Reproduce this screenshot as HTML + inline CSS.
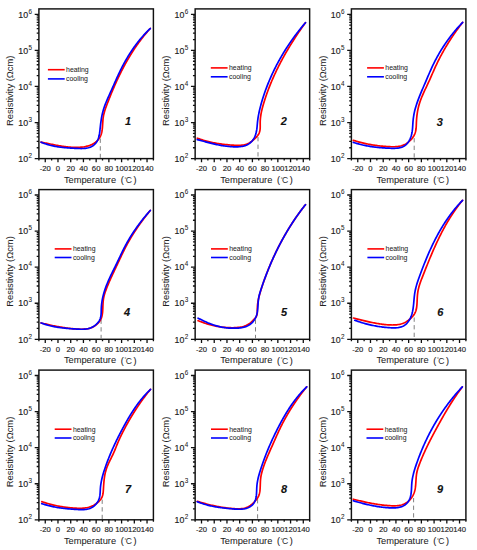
<!DOCTYPE html>
<html><head><meta charset="utf-8"><style>
html,body{margin:0;padding:0;background:#fff;width:477px;height:550px;overflow:hidden}
svg{display:block}
</style></head><body>
<svg width="477" height="550" viewBox="0 0 477 550" font-family='"Liberation Sans", sans-serif'><path d="M34.70 158.60H38.90M36.70 147.74H38.90M36.70 141.39H38.90M36.70 136.88H38.90M36.70 133.39H38.90M36.70 130.53H38.90M36.70 128.12H38.90M36.70 126.03H38.90M36.70 124.18H38.90M34.70 122.53H38.90M36.70 111.67H38.90M36.70 105.32H38.90M36.70 100.81H38.90M36.70 97.32H38.90M36.70 94.46H38.90M36.70 92.05H38.90M36.70 89.96H38.90M36.70 88.11H38.90M34.70 86.46H38.90M36.70 75.60H38.90M36.70 69.25H38.90M36.70 64.74H38.90M36.70 61.25H38.90M36.70 58.39H38.90M36.70 55.98H38.90M36.70 53.89H38.90M36.70 52.04H38.90M34.70 50.39H38.90M36.70 39.53H38.90M36.70 33.18H38.90M36.70 28.67H38.90M36.70 25.18H38.90M36.70 22.32H38.90M36.70 19.91H38.90M36.70 17.82H38.90M36.70 15.97H38.90M34.70 14.32H38.90M38.90 158.60V160.60M45.26 158.60V162.20M51.62 158.60V160.60M57.98 158.60V162.20M64.34 158.60V160.60M70.71 158.60V162.20M77.07 158.60V160.60M83.43 158.60V162.20M89.79 158.60V160.60M96.15 158.60V162.20M102.51 158.60V160.60M108.87 158.60V162.20M115.23 158.60V160.60M121.59 158.60V162.20M127.96 158.60V160.60M134.32 158.60V162.20M140.68 158.60V160.60M147.04 158.60V162.20M153.40 158.60V160.60" stroke="#111" stroke-width="1.3" fill="none"/>
<rect x="38.90" y="8.90" width="114.50" height="149.70" fill="none" stroke="#111" stroke-width="1.45"/>
<text x="28.10" y="161.80" text-anchor="end" font-size="8.8" fill="#1c1c1c" stroke="#1c1c1c" stroke-width="0.15">10</text>
<text x="28.50" y="157.80" font-size="6.3" fill="#222" stroke="#222" stroke-width="0.05">2</text>
<text x="28.10" y="125.73" text-anchor="end" font-size="8.8" fill="#1c1c1c" stroke="#1c1c1c" stroke-width="0.15">10</text>
<text x="28.50" y="121.73" font-size="6.3" fill="#222" stroke="#222" stroke-width="0.05">3</text>
<text x="28.10" y="89.66" text-anchor="end" font-size="8.8" fill="#1c1c1c" stroke="#1c1c1c" stroke-width="0.15">10</text>
<text x="28.50" y="85.66" font-size="6.3" fill="#222" stroke="#222" stroke-width="0.05">4</text>
<text x="28.10" y="53.59" text-anchor="end" font-size="8.8" fill="#1c1c1c" stroke="#1c1c1c" stroke-width="0.15">10</text>
<text x="28.50" y="49.59" font-size="6.3" fill="#222" stroke="#222" stroke-width="0.05">5</text>
<text x="28.10" y="17.52" text-anchor="end" font-size="8.8" fill="#1c1c1c" stroke="#1c1c1c" stroke-width="0.15">10</text>
<text x="28.50" y="13.52" font-size="6.3" fill="#222" stroke="#222" stroke-width="0.05">6</text>
<text x="45.26" y="171.10" text-anchor="middle" font-size="7.7" fill="#1c1c1c" stroke="#1c1c1c" stroke-width="0.15">-20</text>
<text x="57.98" y="171.10" text-anchor="middle" font-size="7.7" fill="#1c1c1c" stroke="#1c1c1c" stroke-width="0.15">0</text>
<text x="70.71" y="171.10" text-anchor="middle" font-size="7.7" fill="#1c1c1c" stroke="#1c1c1c" stroke-width="0.15">20</text>
<text x="83.43" y="171.10" text-anchor="middle" font-size="7.7" fill="#1c1c1c" stroke="#1c1c1c" stroke-width="0.15">40</text>
<text x="96.15" y="171.10" text-anchor="middle" font-size="7.7" fill="#1c1c1c" stroke="#1c1c1c" stroke-width="0.15">60</text>
<text x="108.87" y="171.10" text-anchor="middle" font-size="7.7" fill="#1c1c1c" stroke="#1c1c1c" stroke-width="0.15">80</text>
<text x="121.59" y="171.10" text-anchor="middle" font-size="7.7" fill="#1c1c1c" stroke="#1c1c1c" stroke-width="0.15">100</text>
<text x="134.32" y="171.10" text-anchor="middle" font-size="7.7" fill="#1c1c1c" stroke="#1c1c1c" stroke-width="0.15">120</text>
<text x="147.04" y="171.10" text-anchor="middle" font-size="7.7" fill="#1c1c1c" stroke="#1c1c1c" stroke-width="0.15">140</text>
<text x="63.90" y="182.70" font-size="9.3" fill="#222" stroke="#222" stroke-width="0.04">Temperature</text>
<text x="120.70" y="183.20" font-size="9" fill="#222" stroke="#222" stroke-width="0.1">(</text>
<text x="124.60" y="180.60" font-size="4.5" fill="#333">&#176;</text>
<text x="125.70" y="183.00" font-size="8.6" fill="#2a2a2a">C</text>
<text x="133.40" y="183.20" font-size="9" fill="#222" stroke="#222" stroke-width="0.1">)</text>
<text transform="translate(13.10 90.80) rotate(-90)" text-anchor="middle" font-size="9.4" fill="#222" stroke="#222" stroke-width="0.04">Resistivity (&#937;cm)</text>
<path d="M100.30 138.60V157.90" stroke="#808080" stroke-width="1" stroke-dasharray="4.3 3.3" fill="none"/>
<path d="M41.08 142.20 L42.11 142.39 L43.14 142.59 L44.16 142.79 L45.18 142.99 L46.20 143.19 L47.21 143.40 L48.22 143.61 L49.23 143.81 L50.24 144.02 L51.25 144.22 L52.25 144.43 L53.26 144.63 L54.26 144.83 L55.26 145.03 L56.27 145.22 L57.27 145.41 L58.27 145.59 L59.27 145.77 L60.28 145.94 L61.28 146.10 L62.29 146.26 L63.29 146.41 L64.30 146.55 L65.31 146.69 L66.33 146.81 L67.34 146.92 L68.36 147.03 L69.38 147.12 L70.41 147.20 L71.44 147.27 L72.47 147.32 L73.51 147.36 L74.55 147.39 L75.59 147.40 L76.64 147.40 L77.70 147.38 L78.75 147.34 L79.81 147.29 L80.86 147.21 L81.91 147.11 L82.95 146.98 L83.99 146.83 L85.02 146.65 L86.04 146.44 L87.04 146.20 L88.04 145.93 L89.01 145.62 L89.97 145.28 L90.91 144.91 L91.84 144.49 L92.73 144.03 L93.61 143.54 L94.46 143.00 L95.28 142.41 L96.07 141.78 L96.83 141.10 L97.56 140.38 L98.24 139.61 L98.88 138.80 L99.47 137.95 L100.00 137.07 L100.47 136.15 L100.87 135.21 L101.22 134.25 L101.50 133.26 L101.75 132.26 L101.95 131.24 L102.11 130.21 L102.25 129.17 L102.36 128.12 L102.45 127.07 L102.53 126.03 L102.60 124.98 L102.66 123.93 L102.73 122.89 L102.79 121.85 L102.87 120.81 L102.96 119.78 L103.06 118.75 L103.19 117.73 L103.34 116.71 L103.51 115.70 L103.72 114.70 L103.95 113.71 L104.20 112.72 L104.47 111.74 L104.77 110.76 L105.08 109.79 L105.40 108.82 L105.73 107.85 L106.08 106.89 L106.43 105.93 L106.79 104.97 L107.15 104.01 L107.52 103.05 L107.89 102.09 L108.26 101.13 L108.63 100.18 L109.01 99.22 L109.38 98.26 L109.76 97.31 L110.15 96.35 L110.53 95.40 L110.92 94.44 L111.31 93.49 L111.70 92.54 L112.10 91.59 L112.49 90.64 L112.90 89.69 L113.30 88.74 L113.71 87.79 L114.12 86.85 L114.53 85.90 L114.94 84.96 L115.36 84.02 L115.78 83.08 L116.21 82.14 L116.64 81.20 L117.07 80.26 L117.50 79.33 L117.94 78.39 L118.38 77.46 L118.82 76.53 L119.27 75.60 L119.72 74.68 L120.18 73.75 L120.64 72.83 L121.10 71.91 L121.56 70.99 L122.03 70.07 L122.50 69.15 L122.98 68.24 L123.46 67.33 L123.94 66.42 L124.43 65.51 L124.92 64.61 L125.42 63.71 L125.92 62.81 L126.42 61.91 L126.93 61.01 L127.44 60.12 L127.95 59.23 L128.47 58.34 L129.00 57.46 L129.52 56.57 L130.06 55.69 L130.59 54.82 L131.13 53.94 L131.68 53.07 L132.23 52.20 L132.78 51.34 L133.34 50.47 L133.90 49.61 L134.47 48.76 L135.04 47.90 L135.62 47.05 L136.20 46.21 L136.79 45.36 L137.38 44.52 L137.98 43.68 L138.58 42.85 L139.18 42.02 L139.79 41.19 L140.41 40.37 L141.03 39.55 L141.65 38.73 L142.28 37.92 L142.92 37.11 L143.56 36.31 L144.21 35.50 L144.86 34.71 L145.51 33.91 L146.18 33.12 L146.84 32.34 L147.52 31.56 L148.19 30.78 L148.88 30.00 L149.57 29.23 L150.26 28.47" stroke="#ff0000" stroke-width="1.7" fill="none" stroke-linecap="round" stroke-linejoin="round"/>
<path d="M41.07 142.18 L42.08 142.59 L43.08 142.99 L44.09 143.36 L45.09 143.71 L46.10 144.05 L47.10 144.37 L48.10 144.67 L49.10 144.95 L50.09 145.22 L51.09 145.47 L52.09 145.70 L53.09 145.92 L54.09 146.13 L55.09 146.33 L56.09 146.51 L57.09 146.68 L58.10 146.84 L59.10 146.98 L60.11 147.12 L61.12 147.25 L62.14 147.36 L63.15 147.47 L64.17 147.58 L65.20 147.67 L66.23 147.76 L67.26 147.84 L68.29 147.92 L69.33 147.99 L70.38 148.06 L71.43 148.12 L72.48 148.18 L73.55 148.24 L74.61 148.30 L75.69 148.35 L76.77 148.41 L77.85 148.46 L78.94 148.50 L80.02 148.52 L81.10 148.53 L82.18 148.52 L83.25 148.48 L84.30 148.41 L85.35 148.30 L86.38 148.15 L87.39 147.97 L88.38 147.73 L89.35 147.44 L90.30 147.10 L91.22 146.69 L92.10 146.22 L92.96 145.69 L93.78 145.09 L94.55 144.43 L95.27 143.71 L95.93 142.95 L96.53 142.14 L97.07 141.29 L97.54 140.41 L97.95 139.49 L98.32 138.54 L98.63 137.57 L98.91 136.57 L99.15 135.55 L99.35 134.51 L99.53 133.46 L99.68 132.40 L99.82 131.33 L99.94 130.26 L100.06 129.18 L100.17 128.11 L100.28 127.04 L100.40 125.98 L100.52 124.93 L100.64 123.88 L100.77 122.84 L100.91 121.80 L101.06 120.77 L101.21 119.75 L101.38 118.73 L101.55 117.71 L101.74 116.70 L101.93 115.70 L102.14 114.70 L102.37 113.70 L102.60 112.71 L102.86 111.72 L103.13 110.73 L103.41 109.75 L103.72 108.76 L104.03 107.79 L104.37 106.81 L104.71 105.84 L105.07 104.87 L105.44 103.90 L105.82 102.94 L106.21 101.97 L106.61 101.01 L107.02 100.05 L107.43 99.09 L107.85 98.14 L108.27 97.18 L108.70 96.23 L109.13 95.27 L109.56 94.32 L109.99 93.36 L110.42 92.41 L110.85 91.46 L111.28 90.50 L111.71 89.55 L112.13 88.60 L112.55 87.65 L112.97 86.69 L113.40 85.74 L113.82 84.79 L114.24 83.84 L114.66 82.89 L115.08 81.94 L115.50 80.99 L115.92 80.05 L116.35 79.10 L116.77 78.15 L117.20 77.21 L117.64 76.27 L118.07 75.33 L118.51 74.39 L118.95 73.45 L119.39 72.51 L119.84 71.58 L120.30 70.64 L120.76 69.71 L121.22 68.78 L121.69 67.86 L122.17 66.93 L122.64 66.01 L123.13 65.09 L123.62 64.17 L124.11 63.26 L124.62 62.35 L125.12 61.44 L125.63 60.53 L126.15 59.63 L126.67 58.73 L127.20 57.83 L127.73 56.93 L128.27 56.04 L128.82 55.16 L129.37 54.27 L129.93 53.39 L130.49 52.52 L131.06 51.65 L131.63 50.78 L132.21 49.92 L132.80 49.06 L133.39 48.20 L133.99 47.35 L134.59 46.50 L135.20 45.66 L135.82 44.83 L136.45 43.99 L137.08 43.17 L137.71 42.34 L138.35 41.53 L139.00 40.71 L139.66 39.91 L140.32 39.11 L140.99 38.31 L141.67 37.52 L142.35 36.74 L143.04 35.96 L143.73 35.19 L144.43 34.42 L145.14 33.66 L145.86 32.90 L146.58 32.16 L147.31 31.41 L148.05 30.68 L148.80 29.95 L149.55 29.23 L150.31 28.51" stroke="#0000ff" stroke-width="1.7" fill="none" stroke-linecap="round" stroke-linejoin="round"/>
<path d="M47.90 69.70H64.70" stroke="#ff0000" stroke-width="1.6"/>
<path d="M47.90 78.90H64.70" stroke="#0000ff" stroke-width="1.6"/>
<text x="66.10" y="72.10" font-size="6.9" fill="#222" stroke="#222" stroke-width="0.04">heating</text>
<text x="66.10" y="81.30" font-size="6.9" fill="#222" stroke="#222" stroke-width="0.04">cooling</text>
<text x="125.10" y="125.10" font-size="11" font-weight="bold" font-style="italic" fill="#111" stroke="#111" stroke-width="0.12">1</text>
<path d="M190.95 158.60H195.15M192.95 147.74H195.15M192.95 141.39H195.15M192.95 136.88H195.15M192.95 133.39H195.15M192.95 130.53H195.15M192.95 128.12H195.15M192.95 126.03H195.15M192.95 124.18H195.15M190.95 122.53H195.15M192.95 111.67H195.15M192.95 105.32H195.15M192.95 100.81H195.15M192.95 97.32H195.15M192.95 94.46H195.15M192.95 92.05H195.15M192.95 89.96H195.15M192.95 88.11H195.15M190.95 86.46H195.15M192.95 75.60H195.15M192.95 69.25H195.15M192.95 64.74H195.15M192.95 61.25H195.15M192.95 58.39H195.15M192.95 55.98H195.15M192.95 53.89H195.15M192.95 52.04H195.15M190.95 50.39H195.15M192.95 39.53H195.15M192.95 33.18H195.15M192.95 28.67H195.15M192.95 25.18H195.15M192.95 22.32H195.15M192.95 19.91H195.15M192.95 17.82H195.15M192.95 15.97H195.15M190.95 14.32H195.15M195.15 158.60V160.60M201.51 158.60V162.20M207.87 158.60V160.60M214.23 158.60V162.20M220.59 158.60V160.60M226.96 158.60V162.20M233.32 158.60V160.60M239.68 158.60V162.20M246.04 158.60V160.60M252.40 158.60V162.20M258.76 158.60V160.60M265.12 158.60V162.20M271.48 158.60V160.60M277.84 158.60V162.20M284.21 158.60V160.60M290.57 158.60V162.20M296.93 158.60V160.60M303.29 158.60V162.20M309.65 158.60V160.60" stroke="#111" stroke-width="1.3" fill="none"/>
<rect x="195.15" y="8.90" width="114.50" height="149.70" fill="none" stroke="#111" stroke-width="1.45"/>
<text x="184.35" y="161.80" text-anchor="end" font-size="8.8" fill="#1c1c1c" stroke="#1c1c1c" stroke-width="0.15">10</text>
<text x="184.75" y="157.80" font-size="6.3" fill="#222" stroke="#222" stroke-width="0.05">2</text>
<text x="184.35" y="125.73" text-anchor="end" font-size="8.8" fill="#1c1c1c" stroke="#1c1c1c" stroke-width="0.15">10</text>
<text x="184.75" y="121.73" font-size="6.3" fill="#222" stroke="#222" stroke-width="0.05">3</text>
<text x="184.35" y="89.66" text-anchor="end" font-size="8.8" fill="#1c1c1c" stroke="#1c1c1c" stroke-width="0.15">10</text>
<text x="184.75" y="85.66" font-size="6.3" fill="#222" stroke="#222" stroke-width="0.05">4</text>
<text x="184.35" y="53.59" text-anchor="end" font-size="8.8" fill="#1c1c1c" stroke="#1c1c1c" stroke-width="0.15">10</text>
<text x="184.75" y="49.59" font-size="6.3" fill="#222" stroke="#222" stroke-width="0.05">5</text>
<text x="184.35" y="17.52" text-anchor="end" font-size="8.8" fill="#1c1c1c" stroke="#1c1c1c" stroke-width="0.15">10</text>
<text x="184.75" y="13.52" font-size="6.3" fill="#222" stroke="#222" stroke-width="0.05">6</text>
<text x="201.51" y="171.10" text-anchor="middle" font-size="7.7" fill="#1c1c1c" stroke="#1c1c1c" stroke-width="0.15">-20</text>
<text x="214.23" y="171.10" text-anchor="middle" font-size="7.7" fill="#1c1c1c" stroke="#1c1c1c" stroke-width="0.15">0</text>
<text x="226.96" y="171.10" text-anchor="middle" font-size="7.7" fill="#1c1c1c" stroke="#1c1c1c" stroke-width="0.15">20</text>
<text x="239.68" y="171.10" text-anchor="middle" font-size="7.7" fill="#1c1c1c" stroke="#1c1c1c" stroke-width="0.15">40</text>
<text x="252.40" y="171.10" text-anchor="middle" font-size="7.7" fill="#1c1c1c" stroke="#1c1c1c" stroke-width="0.15">60</text>
<text x="265.12" y="171.10" text-anchor="middle" font-size="7.7" fill="#1c1c1c" stroke="#1c1c1c" stroke-width="0.15">80</text>
<text x="277.84" y="171.10" text-anchor="middle" font-size="7.7" fill="#1c1c1c" stroke="#1c1c1c" stroke-width="0.15">100</text>
<text x="290.57" y="171.10" text-anchor="middle" font-size="7.7" fill="#1c1c1c" stroke="#1c1c1c" stroke-width="0.15">120</text>
<text x="303.29" y="171.10" text-anchor="middle" font-size="7.7" fill="#1c1c1c" stroke="#1c1c1c" stroke-width="0.15">140</text>
<text x="220.15" y="182.70" font-size="9.3" fill="#222" stroke="#222" stroke-width="0.04">Temperature</text>
<text x="276.95" y="183.20" font-size="9" fill="#222" stroke="#222" stroke-width="0.1">(</text>
<text x="280.85" y="180.60" font-size="4.5" fill="#333">&#176;</text>
<text x="281.95" y="183.00" font-size="8.6" fill="#2a2a2a">C</text>
<text x="289.65" y="183.20" font-size="9" fill="#222" stroke="#222" stroke-width="0.1">)</text>
<text transform="translate(169.35 90.80) rotate(-90)" text-anchor="middle" font-size="9.4" fill="#222" stroke="#222" stroke-width="0.04">Resistivity (&#937;cm)</text>
<path d="M258.00 137.00V157.90" stroke="#808080" stroke-width="1" stroke-dasharray="4.3 3.3" fill="none"/>
<path d="M197.30 138.20 L198.30 138.56 L199.30 138.92 L200.30 139.26 L201.30 139.59 L202.31 139.91 L203.32 140.22 L204.33 140.52 L205.35 140.80 L206.36 141.08 L207.38 141.35 L208.40 141.60 L209.42 141.85 L210.44 142.09 L211.47 142.31 L212.50 142.53 L213.53 142.74 L214.56 142.94 L215.59 143.13 L216.63 143.31 L217.66 143.49 L218.70 143.65 L219.74 143.81 L220.79 143.96 L221.83 144.10 L222.88 144.24 L223.93 144.37 L224.98 144.49 L226.03 144.60 L227.09 144.71 L228.14 144.81 L229.20 144.90 L230.26 144.99 L231.32 145.07 L232.39 145.15 L233.45 145.22 L234.52 145.28 L235.58 145.33 L236.65 145.36 L237.71 145.38 L238.77 145.37 L239.82 145.33 L240.86 145.27 L241.89 145.16 L242.92 145.03 L243.93 144.84 L244.93 144.62 L245.92 144.34 L246.89 144.01 L247.84 143.62 L248.78 143.17 L249.70 142.65 L250.60 142.08 L251.48 141.46 L252.34 140.79 L253.18 140.09 L254.01 139.37 L254.83 138.62 L255.62 137.86 L256.39 137.08 L257.10 136.28 L257.76 135.45 L258.35 134.60 L258.87 133.72 L259.29 132.80 L259.61 131.85 L259.85 130.87 L260.02 129.86 L260.13 128.83 L260.19 127.78 L260.21 126.72 L260.21 125.65 L260.20 124.57 L260.19 123.49 L260.19 122.41 L260.22 121.33 L260.27 120.26 L260.35 119.20 L260.44 118.14 L260.56 117.09 L260.70 116.04 L260.86 115.00 L261.04 113.96 L261.23 112.93 L261.44 111.89 L261.67 110.87 L261.91 109.84 L262.16 108.82 L262.42 107.80 L262.69 106.79 L262.97 105.78 L263.26 104.76 L263.56 103.76 L263.86 102.75 L264.17 101.74 L264.48 100.74 L264.79 99.74 L265.12 98.73 L265.44 97.73 L265.78 96.74 L266.11 95.74 L266.46 94.75 L266.81 93.75 L267.16 92.76 L267.52 91.77 L267.88 90.78 L268.25 89.80 L268.62 88.81 L269.00 87.83 L269.38 86.85 L269.76 85.87 L270.16 84.89 L270.55 83.92 L270.95 82.94 L271.36 81.97 L271.77 81.00 L272.18 80.03 L272.60 79.06 L273.02 78.10 L273.45 77.13 L273.88 76.17 L274.31 75.21 L274.75 74.25 L275.20 73.29 L275.65 72.34 L276.10 71.38 L276.55 70.43 L277.01 69.48 L277.48 68.53 L277.95 67.59 L278.42 66.64 L278.89 65.70 L279.37 64.76 L279.86 63.82 L280.34 62.88 L280.84 61.95 L281.33 61.01 L281.83 60.08 L282.33 59.15 L282.83 58.22 L283.34 57.30 L283.85 56.37 L284.37 55.45 L284.89 54.53 L285.41 53.61 L285.93 52.69 L286.46 51.78 L286.99 50.87 L287.53 49.96 L288.07 49.05 L288.61 48.14 L289.15 47.23 L289.70 46.33 L290.25 45.43 L290.80 44.53 L291.35 43.63 L291.91 42.74 L292.47 41.84 L293.04 40.95 L293.60 40.06 L294.17 39.17 L294.74 38.29 L295.32 37.40 L295.89 36.52 L296.47 35.64 L297.05 34.76 L297.64 33.89 L298.22 33.01 L298.81 32.14 L299.40 31.27 L299.99 30.40 L300.59 29.54 L301.19 28.67 L301.79 27.81 L302.39 26.95 L302.99 26.09 L303.60 25.24 L304.20 24.39 L304.81 23.53 L305.42 22.68" stroke="#ff0000" stroke-width="1.7" fill="none" stroke-linecap="round" stroke-linejoin="round"/>
<path d="M197.28 139.56 L198.31 139.85 L199.34 140.13 L200.37 140.42 L201.39 140.71 L202.42 140.99 L203.44 141.28 L204.45 141.55 L205.47 141.83 L206.48 142.11 L207.50 142.38 L208.51 142.64 L209.53 142.90 L210.54 143.16 L211.55 143.41 L212.57 143.66 L213.58 143.90 L214.60 144.13 L215.62 144.36 L216.64 144.58 L217.66 144.79 L218.69 144.99 L219.72 145.19 L220.75 145.37 L221.78 145.55 L222.82 145.72 L223.87 145.87 L224.92 146.02 L225.97 146.16 L227.03 146.28 L228.09 146.40 L229.16 146.50 L230.24 146.59 L231.32 146.67 L232.41 146.73 L233.51 146.78 L234.61 146.82 L235.71 146.83 L236.81 146.82 L237.91 146.79 L239.01 146.73 L240.09 146.64 L241.16 146.51 L242.21 146.35 L243.24 146.14 L244.25 145.89 L245.24 145.60 L246.20 145.25 L247.13 144.85 L248.02 144.39 L248.88 143.88 L249.70 143.30 L250.47 142.66 L251.21 141.97 L251.90 141.22 L252.55 140.43 L253.16 139.59 L253.72 138.71 L254.23 137.80 L254.71 136.85 L255.13 135.88 L255.51 134.89 L255.85 133.87 L256.13 132.85 L256.37 131.81 L256.57 130.76 L256.74 129.70 L256.88 128.63 L257.00 127.56 L257.11 126.49 L257.20 125.42 L257.29 124.34 L257.39 123.27 L257.49 122.20 L257.61 121.14 L257.74 120.08 L257.88 119.02 L258.03 117.97 L258.20 116.92 L258.38 115.88 L258.57 114.84 L258.77 113.80 L258.98 112.77 L259.20 111.74 L259.42 110.71 L259.66 109.69 L259.91 108.67 L260.16 107.65 L260.42 106.63 L260.69 105.62 L260.97 104.60 L261.25 103.59 L261.54 102.58 L261.83 101.57 L262.13 100.56 L262.43 99.56 L262.74 98.55 L263.06 97.55 L263.38 96.54 L263.71 95.54 L264.04 94.55 L264.38 93.55 L264.72 92.55 L265.07 91.56 L265.42 90.56 L265.78 89.57 L266.15 88.58 L266.52 87.60 L266.89 86.61 L267.27 85.63 L267.66 84.64 L268.05 83.66 L268.44 82.68 L268.85 81.71 L269.25 80.73 L269.66 79.76 L270.08 78.79 L270.50 77.82 L270.93 76.85 L271.36 75.89 L271.80 74.93 L272.24 73.96 L272.69 73.01 L273.14 72.05 L273.59 71.10 L274.06 70.14 L274.52 69.19 L274.99 68.25 L275.47 67.30 L275.95 66.36 L276.43 65.42 L276.92 64.48 L277.42 63.54 L277.92 62.61 L278.42 61.68 L278.93 60.75 L279.44 59.82 L279.96 58.90 L280.48 57.98 L281.01 57.06 L281.54 56.14 L282.08 55.23 L282.62 54.32 L283.16 53.41 L283.71 52.50 L284.26 51.60 L284.82 50.70 L285.38 49.80 L285.95 48.91 L286.52 48.02 L287.09 47.13 L287.67 46.24 L288.25 45.36 L288.84 44.48 L289.43 43.60 L290.03 42.73 L290.63 41.86 L291.23 40.99 L291.84 40.13 L292.45 39.26 L293.06 38.40 L293.68 37.55 L294.31 36.70 L294.93 35.85 L295.56 35.00 L296.20 34.16 L296.84 33.32 L297.48 32.48 L298.12 31.65 L298.77 30.82 L299.43 29.99 L300.08 29.17 L300.74 28.35 L301.41 27.54 L302.07 26.72 L302.75 25.91 L303.42 25.11 L304.10 24.31 L304.78 23.51 L305.47 22.71" stroke="#0000ff" stroke-width="1.7" fill="none" stroke-linecap="round" stroke-linejoin="round"/>
<path d="M210.80 67.90H227.60" stroke="#ff0000" stroke-width="1.6"/>
<path d="M210.80 76.80H227.60" stroke="#0000ff" stroke-width="1.6"/>
<text x="229.00" y="70.30" font-size="6.9" fill="#222" stroke="#222" stroke-width="0.04">heating</text>
<text x="229.00" y="79.20" font-size="6.9" fill="#222" stroke="#222" stroke-width="0.04">cooling</text>
<text x="280.80" y="125.40" font-size="11" font-weight="bold" font-style="italic" fill="#111" stroke="#111" stroke-width="0.12">2</text>
<path d="M347.20 158.60H351.40M349.20 147.74H351.40M349.20 141.39H351.40M349.20 136.88H351.40M349.20 133.39H351.40M349.20 130.53H351.40M349.20 128.12H351.40M349.20 126.03H351.40M349.20 124.18H351.40M347.20 122.53H351.40M349.20 111.67H351.40M349.20 105.32H351.40M349.20 100.81H351.40M349.20 97.32H351.40M349.20 94.46H351.40M349.20 92.05H351.40M349.20 89.96H351.40M349.20 88.11H351.40M347.20 86.46H351.40M349.20 75.60H351.40M349.20 69.25H351.40M349.20 64.74H351.40M349.20 61.25H351.40M349.20 58.39H351.40M349.20 55.98H351.40M349.20 53.89H351.40M349.20 52.04H351.40M347.20 50.39H351.40M349.20 39.53H351.40M349.20 33.18H351.40M349.20 28.67H351.40M349.20 25.18H351.40M349.20 22.32H351.40M349.20 19.91H351.40M349.20 17.82H351.40M349.20 15.97H351.40M347.20 14.32H351.40M351.40 158.60V160.60M357.76 158.60V162.20M364.12 158.60V160.60M370.48 158.60V162.20M376.84 158.60V160.60M383.21 158.60V162.20M389.57 158.60V160.60M395.93 158.60V162.20M402.29 158.60V160.60M408.65 158.60V162.20M415.01 158.60V160.60M421.37 158.60V162.20M427.73 158.60V160.60M434.09 158.60V162.20M440.46 158.60V160.60M446.82 158.60V162.20M453.18 158.60V160.60M459.54 158.60V162.20M465.90 158.60V160.60" stroke="#111" stroke-width="1.3" fill="none"/>
<rect x="351.40" y="8.90" width="114.50" height="149.70" fill="none" stroke="#111" stroke-width="1.45"/>
<text x="340.60" y="161.80" text-anchor="end" font-size="8.8" fill="#1c1c1c" stroke="#1c1c1c" stroke-width="0.15">10</text>
<text x="341.00" y="157.80" font-size="6.3" fill="#222" stroke="#222" stroke-width="0.05">2</text>
<text x="340.60" y="125.73" text-anchor="end" font-size="8.8" fill="#1c1c1c" stroke="#1c1c1c" stroke-width="0.15">10</text>
<text x="341.00" y="121.73" font-size="6.3" fill="#222" stroke="#222" stroke-width="0.05">3</text>
<text x="340.60" y="89.66" text-anchor="end" font-size="8.8" fill="#1c1c1c" stroke="#1c1c1c" stroke-width="0.15">10</text>
<text x="341.00" y="85.66" font-size="6.3" fill="#222" stroke="#222" stroke-width="0.05">4</text>
<text x="340.60" y="53.59" text-anchor="end" font-size="8.8" fill="#1c1c1c" stroke="#1c1c1c" stroke-width="0.15">10</text>
<text x="341.00" y="49.59" font-size="6.3" fill="#222" stroke="#222" stroke-width="0.05">5</text>
<text x="340.60" y="17.52" text-anchor="end" font-size="8.8" fill="#1c1c1c" stroke="#1c1c1c" stroke-width="0.15">10</text>
<text x="341.00" y="13.52" font-size="6.3" fill="#222" stroke="#222" stroke-width="0.05">6</text>
<text x="357.76" y="171.10" text-anchor="middle" font-size="7.7" fill="#1c1c1c" stroke="#1c1c1c" stroke-width="0.15">-20</text>
<text x="370.48" y="171.10" text-anchor="middle" font-size="7.7" fill="#1c1c1c" stroke="#1c1c1c" stroke-width="0.15">0</text>
<text x="383.21" y="171.10" text-anchor="middle" font-size="7.7" fill="#1c1c1c" stroke="#1c1c1c" stroke-width="0.15">20</text>
<text x="395.93" y="171.10" text-anchor="middle" font-size="7.7" fill="#1c1c1c" stroke="#1c1c1c" stroke-width="0.15">40</text>
<text x="408.65" y="171.10" text-anchor="middle" font-size="7.7" fill="#1c1c1c" stroke="#1c1c1c" stroke-width="0.15">60</text>
<text x="421.37" y="171.10" text-anchor="middle" font-size="7.7" fill="#1c1c1c" stroke="#1c1c1c" stroke-width="0.15">80</text>
<text x="434.09" y="171.10" text-anchor="middle" font-size="7.7" fill="#1c1c1c" stroke="#1c1c1c" stroke-width="0.15">100</text>
<text x="446.82" y="171.10" text-anchor="middle" font-size="7.7" fill="#1c1c1c" stroke="#1c1c1c" stroke-width="0.15">120</text>
<text x="459.54" y="171.10" text-anchor="middle" font-size="7.7" fill="#1c1c1c" stroke="#1c1c1c" stroke-width="0.15">140</text>
<text x="376.40" y="182.70" font-size="9.3" fill="#222" stroke="#222" stroke-width="0.04">Temperature</text>
<text x="433.20" y="183.20" font-size="9" fill="#222" stroke="#222" stroke-width="0.1">(</text>
<text x="437.10" y="180.60" font-size="4.5" fill="#333">&#176;</text>
<text x="438.20" y="183.00" font-size="8.6" fill="#2a2a2a">C</text>
<text x="445.90" y="183.20" font-size="9" fill="#222" stroke="#222" stroke-width="0.1">)</text>
<text transform="translate(325.60 90.80) rotate(-90)" text-anchor="middle" font-size="9.4" fill="#222" stroke="#222" stroke-width="0.04">Resistivity (&#937;cm)</text>
<path d="M414.20 138.10V157.90" stroke="#808080" stroke-width="1" stroke-dasharray="4.3 3.3" fill="none"/>
<path d="M353.29 140.32 L354.31 140.64 L355.33 140.94 L356.36 141.25 L357.38 141.54 L358.41 141.82 L359.43 142.10 L360.46 142.37 L361.49 142.63 L362.52 142.88 L363.56 143.13 L364.59 143.36 L365.63 143.59 L366.66 143.81 L367.70 144.03 L368.74 144.23 L369.79 144.43 L370.83 144.62 L371.88 144.80 L372.92 144.97 L373.97 145.14 L375.02 145.29 L376.08 145.44 L377.13 145.59 L378.19 145.72 L379.24 145.85 L380.30 145.97 L381.36 146.08 L382.43 146.18 L383.49 146.28 L384.56 146.36 L385.62 146.45 L386.69 146.52 L387.76 146.58 L388.84 146.64 L389.91 146.69 L390.99 146.73 L392.06 146.75 L393.13 146.76 L394.20 146.74 L395.26 146.70 L396.32 146.63 L397.37 146.53 L398.41 146.39 L399.44 146.21 L400.46 146.00 L401.47 145.73 L402.46 145.42 L403.44 145.06 L404.40 144.64 L405.34 144.16 L406.27 143.62 L407.17 143.03 L408.04 142.39 L408.89 141.70 L409.71 140.97 L410.50 140.21 L411.25 139.41 L411.96 138.59 L412.62 137.73 L413.24 136.84 L413.80 135.93 L414.30 134.99 L414.75 134.04 L415.12 133.06 L415.43 132.06 L415.68 131.05 L415.87 130.02 L416.02 128.98 L416.13 127.93 L416.21 126.87 L416.27 125.81 L416.31 124.74 L416.35 123.67 L416.39 122.59 L416.44 121.52 L416.50 120.45 L416.57 119.38 L416.66 118.32 L416.76 117.25 L416.87 116.19 L416.99 115.14 L417.13 114.08 L417.28 113.03 L417.45 111.98 L417.64 110.94 L417.83 109.90 L418.05 108.86 L418.28 107.83 L418.52 106.80 L418.79 105.78 L419.07 104.76 L419.37 103.75 L419.68 102.74 L420.01 101.73 L420.36 100.73 L420.72 99.74 L421.10 98.75 L421.49 97.76 L421.89 96.78 L422.30 95.80 L422.72 94.82 L423.15 93.84 L423.58 92.87 L424.02 91.90 L424.47 90.93 L424.92 89.96 L425.38 88.99 L425.84 88.02 L426.29 87.06 L426.75 86.09 L427.21 85.13 L427.67 84.16 L428.12 83.19 L428.57 82.23 L429.01 81.26 L429.45 80.29 L429.89 79.31 L430.32 78.34 L430.75 77.37 L431.18 76.40 L431.60 75.42 L432.03 74.45 L432.45 73.48 L432.88 72.51 L433.31 71.54 L433.73 70.57 L434.16 69.60 L434.60 68.63 L435.03 67.66 L435.47 66.70 L435.92 65.73 L436.37 64.77 L436.82 63.81 L437.28 62.86 L437.74 61.90 L438.21 60.95 L438.69 60.00 L439.17 59.05 L439.65 58.10 L440.14 57.16 L440.64 56.22 L441.14 55.28 L441.64 54.34 L442.15 53.40 L442.66 52.47 L443.18 51.54 L443.71 50.61 L444.23 49.69 L444.77 48.77 L445.30 47.85 L445.84 46.93 L446.39 46.01 L446.94 45.10 L447.49 44.19 L448.05 43.29 L448.62 42.38 L449.18 41.48 L449.76 40.58 L450.33 39.68 L450.91 38.79 L451.50 37.90 L452.09 37.01 L452.68 36.13 L453.28 35.25 L453.88 34.37 L454.48 33.49 L455.09 32.62 L455.70 31.75 L456.32 30.88 L456.94 30.02 L457.56 29.16 L458.19 28.30 L458.82 27.45 L459.45 26.60 L460.09 25.75 L460.73 24.91 L461.38 24.07 L462.02 23.23 L462.68 22.39" stroke="#ff0000" stroke-width="1.7" fill="none" stroke-linecap="round" stroke-linejoin="round"/>
<path d="M353.27 142.37 L354.34 142.71 L355.40 143.04 L356.45 143.35 L357.50 143.65 L358.54 143.94 L359.59 144.22 L360.63 144.48 L361.66 144.73 L362.70 144.98 L363.73 145.21 L364.76 145.43 L365.79 145.64 L366.82 145.84 L367.85 146.03 L368.88 146.21 L369.92 146.38 L370.95 146.54 L371.98 146.69 L373.02 146.84 L374.05 146.98 L375.09 147.11 L376.14 147.23 L377.19 147.34 L378.24 147.45 L379.29 147.55 L380.35 147.65 L381.42 147.74 L382.49 147.82 L383.57 147.90 L384.65 147.97 L385.74 148.04 L386.84 148.10 L387.94 148.16 L389.06 148.21 L390.18 148.26 L391.30 148.30 L392.42 148.32 L393.54 148.33 L394.66 148.31 L395.76 148.26 L396.85 148.18 L397.92 148.06 L398.97 147.90 L400.00 147.69 L401.00 147.43 L401.97 147.11 L402.90 146.73 L403.80 146.29 L404.65 145.77 L405.46 145.18 L406.22 144.52 L406.94 143.79 L407.61 143.00 L408.24 142.16 L408.82 141.27 L409.36 140.33 L409.85 139.35 L410.30 138.35 L410.71 137.32 L411.08 136.27 L411.40 135.20 L411.68 134.12 L411.91 133.05 L412.11 131.97 L412.27 130.90 L412.40 129.83 L412.51 128.76 L412.60 127.69 L412.67 126.63 L412.74 125.56 L412.80 124.50 L412.87 123.44 L412.94 122.38 L413.02 121.32 L413.12 120.26 L413.24 119.20 L413.36 118.14 L413.51 117.09 L413.67 116.04 L413.84 114.99 L414.03 113.94 L414.24 112.89 L414.46 111.85 L414.70 110.81 L414.96 109.78 L415.24 108.74 L415.53 107.71 L415.83 106.69 L416.14 105.66 L416.47 104.65 L416.80 103.63 L417.15 102.62 L417.50 101.61 L417.86 100.60 L418.23 99.60 L418.61 98.60 L418.99 97.61 L419.38 96.61 L419.78 95.62 L420.18 94.63 L420.58 93.64 L420.99 92.65 L421.41 91.67 L421.82 90.68 L422.24 89.70 L422.66 88.72 L423.08 87.73 L423.51 86.75 L423.93 85.77 L424.35 84.79 L424.78 83.81 L425.20 82.82 L425.62 81.84 L426.04 80.86 L426.46 79.88 L426.88 78.89 L427.30 77.91 L427.71 76.92 L428.13 75.94 L428.55 74.96 L428.98 73.98 L429.40 73.00 L429.83 72.02 L430.26 71.04 L430.69 70.06 L431.13 69.09 L431.57 68.11 L432.01 67.14 L432.47 66.18 L432.92 65.21 L433.39 64.25 L433.86 63.29 L434.33 62.33 L434.82 61.38 L435.30 60.43 L435.80 59.48 L436.30 58.53 L436.81 57.59 L437.32 56.65 L437.84 55.72 L438.36 54.79 L438.89 53.86 L439.43 52.94 L439.98 52.01 L440.52 51.10 L441.08 50.18 L441.64 49.27 L442.21 48.37 L442.78 47.46 L443.36 46.56 L443.95 45.67 L444.54 44.78 L445.13 43.89 L445.74 43.01 L446.35 42.13 L446.96 41.25 L447.58 40.38 L448.21 39.52 L448.84 38.65 L449.48 37.80 L450.12 36.94 L450.77 36.09 L451.43 35.25 L452.09 34.41 L452.76 33.58 L453.43 32.75 L454.11 31.92 L454.79 31.10 L455.48 30.28 L456.18 29.47 L456.88 28.66 L457.59 27.86 L458.30 27.07 L459.02 26.28 L459.74 25.49 L460.47 24.71 L461.21 23.93 L461.95 23.16 L462.69 22.40" stroke="#0000ff" stroke-width="1.7" fill="none" stroke-linecap="round" stroke-linejoin="round"/>
<path d="M367.10 67.90H383.90" stroke="#ff0000" stroke-width="1.6"/>
<path d="M367.10 76.80H383.90" stroke="#0000ff" stroke-width="1.6"/>
<text x="385.30" y="70.30" font-size="6.9" fill="#222" stroke="#222" stroke-width="0.04">heating</text>
<text x="385.30" y="79.20" font-size="6.9" fill="#222" stroke="#222" stroke-width="0.04">cooling</text>
<text x="436.80" y="125.50" font-size="11" font-weight="bold" font-style="italic" fill="#111" stroke="#111" stroke-width="0.12">3</text>
<path d="M34.70 339.30H38.90M36.70 328.44H38.90M36.70 322.09H38.90M36.70 317.58H38.90M36.70 314.09H38.90M36.70 311.23H38.90M36.70 308.82H38.90M36.70 306.73H38.90M36.70 304.88H38.90M34.70 303.23H38.90M36.70 292.37H38.90M36.70 286.02H38.90M36.70 281.51H38.90M36.70 278.02H38.90M36.70 275.16H38.90M36.70 272.75H38.90M36.70 270.66H38.90M36.70 268.81H38.90M34.70 267.16H38.90M36.70 256.30H38.90M36.70 249.95H38.90M36.70 245.44H38.90M36.70 241.95H38.90M36.70 239.09H38.90M36.70 236.68H38.90M36.70 234.59H38.90M36.70 232.74H38.90M34.70 231.09H38.90M36.70 220.23H38.90M36.70 213.88H38.90M36.70 209.37H38.90M36.70 205.88H38.90M36.70 203.02H38.90M36.70 200.61H38.90M36.70 198.52H38.90M36.70 196.67H38.90M34.70 195.02H38.90M38.90 339.30V341.30M45.26 339.30V342.90M51.62 339.30V341.30M57.98 339.30V342.90M64.34 339.30V341.30M70.71 339.30V342.90M77.07 339.30V341.30M83.43 339.30V342.90M89.79 339.30V341.30M96.15 339.30V342.90M102.51 339.30V341.30M108.87 339.30V342.90M115.23 339.30V341.30M121.59 339.30V342.90M127.96 339.30V341.30M134.32 339.30V342.90M140.68 339.30V341.30M147.04 339.30V342.90M153.40 339.30V341.30" stroke="#111" stroke-width="1.3" fill="none"/>
<rect x="38.90" y="189.60" width="114.50" height="149.70" fill="none" stroke="#111" stroke-width="1.45"/>
<text x="28.10" y="342.50" text-anchor="end" font-size="8.8" fill="#1c1c1c" stroke="#1c1c1c" stroke-width="0.15">10</text>
<text x="28.50" y="338.50" font-size="6.3" fill="#222" stroke="#222" stroke-width="0.05">2</text>
<text x="28.10" y="306.43" text-anchor="end" font-size="8.8" fill="#1c1c1c" stroke="#1c1c1c" stroke-width="0.15">10</text>
<text x="28.50" y="302.43" font-size="6.3" fill="#222" stroke="#222" stroke-width="0.05">3</text>
<text x="28.10" y="270.36" text-anchor="end" font-size="8.8" fill="#1c1c1c" stroke="#1c1c1c" stroke-width="0.15">10</text>
<text x="28.50" y="266.36" font-size="6.3" fill="#222" stroke="#222" stroke-width="0.05">4</text>
<text x="28.10" y="234.29" text-anchor="end" font-size="8.8" fill="#1c1c1c" stroke="#1c1c1c" stroke-width="0.15">10</text>
<text x="28.50" y="230.29" font-size="6.3" fill="#222" stroke="#222" stroke-width="0.05">5</text>
<text x="28.10" y="198.22" text-anchor="end" font-size="8.8" fill="#1c1c1c" stroke="#1c1c1c" stroke-width="0.15">10</text>
<text x="28.50" y="194.22" font-size="6.3" fill="#222" stroke="#222" stroke-width="0.05">6</text>
<text x="45.26" y="351.80" text-anchor="middle" font-size="7.7" fill="#1c1c1c" stroke="#1c1c1c" stroke-width="0.15">-20</text>
<text x="57.98" y="351.80" text-anchor="middle" font-size="7.7" fill="#1c1c1c" stroke="#1c1c1c" stroke-width="0.15">0</text>
<text x="70.71" y="351.80" text-anchor="middle" font-size="7.7" fill="#1c1c1c" stroke="#1c1c1c" stroke-width="0.15">20</text>
<text x="83.43" y="351.80" text-anchor="middle" font-size="7.7" fill="#1c1c1c" stroke="#1c1c1c" stroke-width="0.15">40</text>
<text x="96.15" y="351.80" text-anchor="middle" font-size="7.7" fill="#1c1c1c" stroke="#1c1c1c" stroke-width="0.15">60</text>
<text x="108.87" y="351.80" text-anchor="middle" font-size="7.7" fill="#1c1c1c" stroke="#1c1c1c" stroke-width="0.15">80</text>
<text x="121.59" y="351.80" text-anchor="middle" font-size="7.7" fill="#1c1c1c" stroke="#1c1c1c" stroke-width="0.15">100</text>
<text x="134.32" y="351.80" text-anchor="middle" font-size="7.7" fill="#1c1c1c" stroke="#1c1c1c" stroke-width="0.15">120</text>
<text x="147.04" y="351.80" text-anchor="middle" font-size="7.7" fill="#1c1c1c" stroke="#1c1c1c" stroke-width="0.15">140</text>
<text x="63.90" y="363.40" font-size="9.3" fill="#222" stroke="#222" stroke-width="0.04">Temperature</text>
<text x="120.70" y="363.90" font-size="9" fill="#222" stroke="#222" stroke-width="0.1">(</text>
<text x="124.60" y="361.30" font-size="4.5" fill="#333">&#176;</text>
<text x="125.70" y="363.70" font-size="8.6" fill="#2a2a2a">C</text>
<text x="133.40" y="363.90" font-size="9" fill="#222" stroke="#222" stroke-width="0.1">)</text>
<text transform="translate(13.10 271.50) rotate(-90)" text-anchor="middle" font-size="9.4" fill="#222" stroke="#222" stroke-width="0.04">Resistivity (&#937;cm)</text>
<path d="M101.10 319.60V338.60" stroke="#808080" stroke-width="1" stroke-dasharray="4.3 3.3" fill="none"/>
<path d="M41.10 322.98 L42.11 323.23 L43.13 323.47 L44.14 323.71 L45.15 323.95 L46.16 324.18 L47.18 324.41 L48.19 324.64 L49.20 324.86 L50.21 325.08 L51.22 325.30 L52.23 325.51 L53.24 325.71 L54.25 325.92 L55.26 326.11 L56.27 326.31 L57.28 326.50 L58.29 326.68 L59.30 326.86 L60.32 327.03 L61.33 327.20 L62.35 327.37 L63.36 327.53 L64.38 327.68 L65.40 327.83 L66.43 327.97 L67.45 328.10 L68.47 328.23 L69.50 328.36 L70.53 328.48 L71.57 328.59 L72.60 328.69 L73.64 328.79 L74.68 328.88 L75.72 328.97 L76.77 329.05 L77.81 329.11 L78.86 329.17 L79.91 329.21 L80.95 329.23 L82.00 329.23 L83.04 329.20 L84.07 329.15 L85.10 329.06 L86.12 328.94 L87.13 328.79 L88.14 328.59 L89.13 328.36 L90.11 328.07 L91.08 327.74 L92.04 327.36 L92.98 326.92 L93.89 326.43 L94.79 325.89 L95.65 325.30 L96.48 324.67 L97.28 323.98 L98.02 323.26 L98.72 322.49 L99.36 321.68 L99.95 320.84 L100.47 319.97 L100.93 319.06 L101.32 318.13 L101.65 317.17 L101.92 316.18 L102.14 315.18 L102.32 314.16 L102.47 313.13 L102.58 312.08 L102.66 311.03 L102.73 309.98 L102.78 308.92 L102.83 307.86 L102.87 306.80 L102.91 305.75 L102.96 304.70 L103.01 303.65 L103.08 302.61 L103.16 301.58 L103.26 300.55 L103.38 299.52 L103.53 298.50 L103.71 297.49 L103.93 296.49 L104.17 295.49 L104.44 294.50 L104.74 293.52 L105.05 292.54 L105.39 291.57 L105.73 290.60 L106.09 289.63 L106.46 288.67 L106.83 287.70 L107.21 286.75 L107.60 285.79 L107.99 284.83 L108.39 283.88 L108.79 282.93 L109.20 281.98 L109.61 281.03 L110.03 280.08 L110.45 279.14 L110.87 278.19 L111.30 277.25 L111.73 276.31 L112.16 275.37 L112.60 274.43 L113.04 273.49 L113.48 272.55 L113.92 271.61 L114.36 270.68 L114.81 269.74 L115.25 268.80 L115.69 267.87 L116.14 266.93 L116.58 266.00 L117.03 265.06 L117.47 264.12 L117.91 263.19 L118.35 262.25 L118.79 261.31 L119.23 260.38 L119.67 259.44 L120.11 258.50 L120.55 257.57 L120.99 256.63 L121.43 255.70 L121.87 254.76 L122.32 253.83 L122.76 252.90 L123.21 251.97 L123.67 251.04 L124.13 250.12 L124.59 249.19 L125.05 248.27 L125.53 247.35 L126.00 246.44 L126.49 245.52 L126.97 244.61 L127.47 243.70 L127.97 242.80 L128.47 241.89 L128.98 240.99 L129.50 240.10 L130.02 239.20 L130.54 238.31 L131.07 237.42 L131.61 236.54 L132.15 235.66 L132.70 234.77 L133.25 233.90 L133.80 233.02 L134.36 232.15 L134.93 231.28 L135.49 230.42 L136.07 229.55 L136.64 228.69 L137.23 227.84 L137.81 226.98 L138.40 226.13 L139.00 225.28 L139.59 224.43 L140.19 223.59 L140.80 222.75 L141.41 221.91 L142.02 221.08 L142.64 220.25 L143.26 219.42 L143.88 218.59 L144.50 217.77 L145.13 216.95 L145.77 216.13 L146.40 215.32 L147.04 214.51 L147.68 213.70 L148.33 212.89 L148.97 212.09 L149.62 211.29 L150.27 210.49" stroke="#ff0000" stroke-width="1.7" fill="none" stroke-linecap="round" stroke-linejoin="round"/>
<path d="M41.09 322.95 L42.09 323.32 L43.09 323.67 L44.08 324.01 L45.08 324.33 L46.08 324.64 L47.08 324.93 L48.08 325.21 L49.08 325.47 L50.08 325.72 L51.08 325.96 L52.08 326.19 L53.09 326.40 L54.09 326.60 L55.10 326.80 L56.11 326.98 L57.12 327.15 L58.13 327.31 L59.14 327.46 L60.16 327.60 L61.17 327.74 L62.19 327.87 L63.21 327.99 L64.24 328.10 L65.26 328.21 L66.29 328.31 L67.32 328.40 L68.35 328.49 L69.38 328.58 L70.42 328.66 L71.45 328.74 L72.50 328.81 L73.54 328.88 L74.59 328.95 L75.64 329.02 L76.69 329.09 L77.74 329.15 L78.80 329.20 L79.85 329.24 L80.90 329.26 L81.95 329.27 L82.99 329.25 L84.03 329.20 L85.05 329.12 L86.07 329.00 L87.08 328.85 L88.07 328.65 L89.05 328.40 L90.02 328.11 L90.97 327.76 L91.90 327.35 L92.81 326.88 L93.70 326.35 L94.56 325.77 L95.39 325.13 L96.19 324.45 L96.95 323.72 L97.67 322.94 L98.34 322.13 L98.94 321.28 L99.47 320.40 L99.92 319.48 L100.29 318.54 L100.57 317.57 L100.79 316.58 L100.95 315.57 L101.06 314.55 L101.14 313.51 L101.19 312.46 L101.22 311.40 L101.24 310.35 L101.26 309.29 L101.30 308.23 L101.36 307.18 L101.43 306.13 L101.52 305.09 L101.63 304.06 L101.76 303.02 L101.91 302.00 L102.07 300.97 L102.24 299.95 L102.43 298.94 L102.64 297.93 L102.86 296.92 L103.10 295.92 L103.35 294.92 L103.62 293.93 L103.89 292.93 L104.19 291.95 L104.49 290.97 L104.81 289.99 L105.13 289.01 L105.48 288.04 L105.83 287.07 L106.19 286.11 L106.56 285.15 L106.94 284.19 L107.33 283.23 L107.73 282.28 L108.14 281.33 L108.55 280.38 L108.97 279.44 L109.40 278.49 L109.83 277.55 L110.27 276.61 L110.71 275.67 L111.16 274.74 L111.61 273.80 L112.07 272.87 L112.52 271.93 L112.98 271.00 L113.44 270.07 L113.90 269.13 L114.36 268.20 L114.82 267.27 L115.28 266.34 L115.74 265.41 L116.20 264.48 L116.65 263.54 L117.10 262.61 L117.55 261.68 L118.00 260.74 L118.44 259.81 L118.89 258.87 L119.33 257.94 L119.77 257.01 L120.22 256.07 L120.66 255.14 L121.11 254.21 L121.55 253.28 L122.00 252.35 L122.45 251.42 L122.91 250.50 L123.37 249.57 L123.83 248.65 L124.30 247.73 L124.78 246.82 L125.26 245.90 L125.75 244.99 L126.24 244.08 L126.74 243.18 L127.24 242.27 L127.75 241.37 L128.27 240.48 L128.79 239.58 L129.32 238.69 L129.85 237.81 L130.39 236.92 L130.94 236.04 L131.49 235.16 L132.04 234.29 L132.60 233.42 L133.17 232.55 L133.74 231.68 L134.32 230.82 L134.90 229.96 L135.49 229.11 L136.08 228.26 L136.68 227.41 L137.28 226.57 L137.89 225.73 L138.50 224.89 L139.12 224.06 L139.74 223.23 L140.37 222.40 L141.00 221.58 L141.63 220.76 L142.27 219.95 L142.92 219.14 L143.56 218.33 L144.22 217.53 L144.87 216.73 L145.53 215.94 L146.20 215.15 L146.87 214.36 L147.54 213.58 L148.22 212.80 L148.90 212.03 L149.59 211.26 L150.28 210.49" stroke="#0000ff" stroke-width="1.7" fill="none" stroke-linecap="round" stroke-linejoin="round"/>
<path d="M54.70 248.90H71.50" stroke="#ff0000" stroke-width="1.6"/>
<path d="M54.70 257.50H71.50" stroke="#0000ff" stroke-width="1.6"/>
<text x="72.90" y="251.30" font-size="6.9" fill="#222" stroke="#222" stroke-width="0.04">heating</text>
<text x="72.90" y="259.90" font-size="6.9" fill="#222" stroke="#222" stroke-width="0.04">cooling</text>
<text x="124.10" y="315.50" font-size="11" font-weight="bold" font-style="italic" fill="#111" stroke="#111" stroke-width="0.12">4</text>
<path d="M190.95 339.30H195.15M192.95 328.44H195.15M192.95 322.09H195.15M192.95 317.58H195.15M192.95 314.09H195.15M192.95 311.23H195.15M192.95 308.82H195.15M192.95 306.73H195.15M192.95 304.88H195.15M190.95 303.23H195.15M192.95 292.37H195.15M192.95 286.02H195.15M192.95 281.51H195.15M192.95 278.02H195.15M192.95 275.16H195.15M192.95 272.75H195.15M192.95 270.66H195.15M192.95 268.81H195.15M190.95 267.16H195.15M192.95 256.30H195.15M192.95 249.95H195.15M192.95 245.44H195.15M192.95 241.95H195.15M192.95 239.09H195.15M192.95 236.68H195.15M192.95 234.59H195.15M192.95 232.74H195.15M190.95 231.09H195.15M192.95 220.23H195.15M192.95 213.88H195.15M192.95 209.37H195.15M192.95 205.88H195.15M192.95 203.02H195.15M192.95 200.61H195.15M192.95 198.52H195.15M192.95 196.67H195.15M190.95 195.02H195.15M195.15 339.30V341.30M201.51 339.30V342.90M207.87 339.30V341.30M214.23 339.30V342.90M220.59 339.30V341.30M226.96 339.30V342.90M233.32 339.30V341.30M239.68 339.30V342.90M246.04 339.30V341.30M252.40 339.30V342.90M258.76 339.30V341.30M265.12 339.30V342.90M271.48 339.30V341.30M277.84 339.30V342.90M284.21 339.30V341.30M290.57 339.30V342.90M296.93 339.30V341.30M303.29 339.30V342.90M309.65 339.30V341.30" stroke="#111" stroke-width="1.3" fill="none"/>
<rect x="195.15" y="189.60" width="114.50" height="149.70" fill="none" stroke="#111" stroke-width="1.45"/>
<text x="184.35" y="342.50" text-anchor="end" font-size="8.8" fill="#1c1c1c" stroke="#1c1c1c" stroke-width="0.15">10</text>
<text x="184.75" y="338.50" font-size="6.3" fill="#222" stroke="#222" stroke-width="0.05">2</text>
<text x="184.35" y="306.43" text-anchor="end" font-size="8.8" fill="#1c1c1c" stroke="#1c1c1c" stroke-width="0.15">10</text>
<text x="184.75" y="302.43" font-size="6.3" fill="#222" stroke="#222" stroke-width="0.05">3</text>
<text x="184.35" y="270.36" text-anchor="end" font-size="8.8" fill="#1c1c1c" stroke="#1c1c1c" stroke-width="0.15">10</text>
<text x="184.75" y="266.36" font-size="6.3" fill="#222" stroke="#222" stroke-width="0.05">4</text>
<text x="184.35" y="234.29" text-anchor="end" font-size="8.8" fill="#1c1c1c" stroke="#1c1c1c" stroke-width="0.15">10</text>
<text x="184.75" y="230.29" font-size="6.3" fill="#222" stroke="#222" stroke-width="0.05">5</text>
<text x="184.35" y="198.22" text-anchor="end" font-size="8.8" fill="#1c1c1c" stroke="#1c1c1c" stroke-width="0.15">10</text>
<text x="184.75" y="194.22" font-size="6.3" fill="#222" stroke="#222" stroke-width="0.05">6</text>
<text x="201.51" y="351.80" text-anchor="middle" font-size="7.7" fill="#1c1c1c" stroke="#1c1c1c" stroke-width="0.15">-20</text>
<text x="214.23" y="351.80" text-anchor="middle" font-size="7.7" fill="#1c1c1c" stroke="#1c1c1c" stroke-width="0.15">0</text>
<text x="226.96" y="351.80" text-anchor="middle" font-size="7.7" fill="#1c1c1c" stroke="#1c1c1c" stroke-width="0.15">20</text>
<text x="239.68" y="351.80" text-anchor="middle" font-size="7.7" fill="#1c1c1c" stroke="#1c1c1c" stroke-width="0.15">40</text>
<text x="252.40" y="351.80" text-anchor="middle" font-size="7.7" fill="#1c1c1c" stroke="#1c1c1c" stroke-width="0.15">60</text>
<text x="265.12" y="351.80" text-anchor="middle" font-size="7.7" fill="#1c1c1c" stroke="#1c1c1c" stroke-width="0.15">80</text>
<text x="277.84" y="351.80" text-anchor="middle" font-size="7.7" fill="#1c1c1c" stroke="#1c1c1c" stroke-width="0.15">100</text>
<text x="290.57" y="351.80" text-anchor="middle" font-size="7.7" fill="#1c1c1c" stroke="#1c1c1c" stroke-width="0.15">120</text>
<text x="303.29" y="351.80" text-anchor="middle" font-size="7.7" fill="#1c1c1c" stroke="#1c1c1c" stroke-width="0.15">140</text>
<text x="220.15" y="363.40" font-size="9.3" fill="#222" stroke="#222" stroke-width="0.04">Temperature</text>
<text x="276.95" y="363.90" font-size="9" fill="#222" stroke="#222" stroke-width="0.1">(</text>
<text x="280.85" y="361.30" font-size="4.5" fill="#333">&#176;</text>
<text x="281.95" y="363.70" font-size="8.6" fill="#2a2a2a">C</text>
<text x="289.65" y="363.90" font-size="9" fill="#222" stroke="#222" stroke-width="0.1">)</text>
<text transform="translate(169.35 271.50) rotate(-90)" text-anchor="middle" font-size="9.4" fill="#222" stroke="#222" stroke-width="0.04">Resistivity (&#937;cm)</text>
<path d="M255.50 319.60V338.60" stroke="#808080" stroke-width="1" stroke-dasharray="4.3 3.3" fill="none"/>
<path d="M198.10 320.67 L199.08 321.06 L200.06 321.44 L201.04 321.81 L202.03 322.17 L203.02 322.52 L204.01 322.86 L205.00 323.19 L205.99 323.51 L206.99 323.82 L207.99 324.12 L208.99 324.41 L209.99 324.68 L211.00 324.95 L212.00 325.21 L213.01 325.45 L214.03 325.69 L215.04 325.91 L216.06 326.12 L217.08 326.32 L218.10 326.50 L219.12 326.68 L220.15 326.84 L221.17 326.98 L222.21 327.12 L223.24 327.24 L224.27 327.35 L225.31 327.45 L226.35 327.53 L227.39 327.60 L228.44 327.65 L229.49 327.70 L230.54 327.72 L231.59 327.74 L232.64 327.73 L233.70 327.72 L234.76 327.68 L235.82 327.63 L236.87 327.55 L237.92 327.45 L238.97 327.33 L240.00 327.17 L241.03 326.98 L242.04 326.76 L243.04 326.50 L244.03 326.20 L245.00 325.86 L245.95 325.48 L246.88 325.05 L247.79 324.57 L248.68 324.04 L249.54 323.45 L250.38 322.82 L251.19 322.14 L251.98 321.42 L252.75 320.68 L253.50 319.91 L254.23 319.13 L254.94 318.34 L255.61 317.53 L256.18 316.68 L256.63 315.79 L256.95 314.84 L257.15 313.85 L257.27 312.83 L257.32 311.79 L257.33 310.72 L257.32 309.65 L257.33 308.58 L257.35 307.51 L257.41 306.46 L257.49 305.40 L257.59 304.36 L257.72 303.32 L257.87 302.28 L258.04 301.26 L258.22 300.23 L258.43 299.21 L258.65 298.20 L258.89 297.19 L259.14 296.18 L259.41 295.18 L259.68 294.18 L259.97 293.18 L260.27 292.19 L260.57 291.19 L260.88 290.20 L261.19 289.21 L261.51 288.22 L261.83 287.23 L262.16 286.24 L262.48 285.26 L262.82 284.27 L263.15 283.29 L263.49 282.30 L263.83 281.32 L264.18 280.34 L264.53 279.36 L264.88 278.38 L265.24 277.40 L265.60 276.42 L265.97 275.44 L266.34 274.47 L266.71 273.49 L267.08 272.52 L267.46 271.55 L267.84 270.58 L268.23 269.61 L268.62 268.64 L269.01 267.68 L269.41 266.71 L269.81 265.75 L270.21 264.79 L270.62 263.82 L271.03 262.87 L271.45 261.91 L271.87 260.95 L272.29 260.00 L272.71 259.04 L273.14 258.09 L273.58 257.14 L274.01 256.19 L274.45 255.25 L274.90 254.30 L275.34 253.36 L275.79 252.41 L276.25 251.47 L276.71 250.54 L277.17 249.60 L277.63 248.66 L278.10 247.73 L278.57 246.80 L279.05 245.87 L279.53 244.94 L280.01 244.02 L280.50 243.09 L280.99 242.17 L281.48 241.25 L281.98 240.33 L282.48 239.42 L282.98 238.50 L283.49 237.59 L284.00 236.68 L284.52 235.77 L285.04 234.87 L285.56 233.96 L286.09 233.06 L286.62 232.16 L287.15 231.27 L287.68 230.37 L288.23 229.48 L288.77 228.59 L289.32 227.70 L289.87 226.82 L290.42 225.93 L290.98 225.05 L291.54 224.17 L292.11 223.30 L292.67 222.42 L293.25 221.55 L293.82 220.68 L294.40 219.82 L294.99 218.95 L295.57 218.09 L296.16 217.24 L296.76 216.38 L297.35 215.53 L297.95 214.67 L298.56 213.83 L299.17 212.98 L299.78 212.14 L300.39 211.30 L301.01 210.46 L301.63 209.63 L302.26 208.79 L302.89 207.97 L303.52 207.14 L304.16 206.32 L304.80 205.50 L305.44 204.68" stroke="#ff0000" stroke-width="1.7" fill="none" stroke-linecap="round" stroke-linejoin="round"/>
<path d="M198.10 318.19 L199.04 318.66 L199.99 319.13 L200.94 319.60 L201.89 320.06 L202.85 320.51 L203.81 320.96 L204.77 321.41 L205.73 321.84 L206.70 322.27 L207.66 322.69 L208.64 323.09 L209.61 323.49 L210.59 323.87 L211.57 324.25 L212.55 324.61 L213.54 324.95 L214.53 325.28 L215.53 325.59 L216.53 325.89 L217.53 326.17 L218.53 326.43 L219.54 326.68 L220.56 326.90 L221.57 327.11 L222.60 327.29 L223.62 327.46 L224.65 327.61 L225.69 327.74 L226.73 327.85 L227.78 327.95 L228.84 328.03 L229.90 328.10 L230.96 328.15 L232.04 328.19 L233.12 328.21 L234.20 328.22 L235.29 328.21 L236.39 328.18 L237.48 328.13 L238.56 328.06 L239.64 327.95 L240.71 327.82 L241.77 327.65 L242.81 327.45 L243.84 327.20 L244.85 326.92 L245.83 326.59 L246.79 326.21 L247.73 325.78 L248.63 325.30 L249.50 324.77 L250.34 324.18 L251.14 323.53 L251.90 322.84 L252.62 322.10 L253.30 321.32 L253.93 320.49 L254.51 319.63 L255.05 318.74 L255.53 317.81 L255.96 316.86 L256.34 315.88 L256.66 314.89 L256.93 313.87 L257.15 312.84 L257.34 311.79 L257.50 310.74 L257.63 309.68 L257.74 308.61 L257.83 307.55 L257.91 306.48 L257.98 305.42 L258.05 304.35 L258.12 303.29 L258.19 302.24 L258.28 301.18 L258.39 300.14 L258.52 299.09 L258.67 298.06 L258.86 297.03 L259.07 296.01 L259.31 294.99 L259.58 293.98 L259.86 292.98 L260.16 291.97 L260.48 290.98 L260.80 289.98 L261.13 288.98 L261.46 287.99 L261.80 287.00 L262.14 286.00 L262.48 285.01 L262.82 284.02 L263.17 283.03 L263.52 282.04 L263.88 281.05 L264.24 280.06 L264.60 279.07 L264.96 278.09 L265.33 277.10 L265.70 276.12 L266.08 275.14 L266.45 274.15 L266.83 273.17 L267.22 272.19 L267.61 271.21 L268.00 270.24 L268.39 269.26 L268.79 268.29 L269.19 267.31 L269.59 266.34 L270.00 265.37 L270.41 264.40 L270.82 263.43 L271.24 262.46 L271.66 261.50 L272.09 260.53 L272.52 259.57 L272.95 258.61 L273.38 257.65 L273.82 256.69 L274.26 255.74 L274.71 254.78 L275.15 253.83 L275.61 252.88 L276.06 251.93 L276.52 250.98 L276.98 250.03 L277.45 249.09 L277.92 248.14 L278.39 247.20 L278.87 246.26 L279.35 245.33 L279.83 244.39 L280.32 243.46 L280.81 242.53 L281.30 241.60 L281.80 240.67 L282.30 239.74 L282.81 238.82 L283.32 237.90 L283.83 236.98 L284.35 236.06 L284.87 235.15 L285.39 234.23 L285.92 233.32 L286.45 232.41 L286.99 231.51 L287.52 230.60 L288.07 229.70 L288.61 228.80 L289.16 227.91 L289.72 227.01 L290.27 226.12 L290.83 225.23 L291.40 224.34 L291.97 223.46 L292.54 222.58 L293.12 221.70 L293.70 220.82 L294.28 219.95 L294.87 219.07 L295.46 218.21 L296.06 217.34 L296.66 216.48 L297.26 215.62 L297.87 214.76 L298.48 213.90 L299.09 213.05 L299.71 212.20 L300.34 211.35 L300.96 210.51 L301.59 209.67 L302.23 208.83 L302.87 208.00 L303.51 207.16 L304.16 206.34 L304.81 205.51 L305.46 204.69" stroke="#0000ff" stroke-width="1.7" fill="none" stroke-linecap="round" stroke-linejoin="round"/>
<path d="M211.00 248.90H227.80" stroke="#ff0000" stroke-width="1.6"/>
<path d="M211.00 257.50H227.80" stroke="#0000ff" stroke-width="1.6"/>
<text x="229.20" y="251.30" font-size="6.9" fill="#222" stroke="#222" stroke-width="0.04">heating</text>
<text x="229.20" y="259.90" font-size="6.9" fill="#222" stroke="#222" stroke-width="0.04">cooling</text>
<text x="281.00" y="315.50" font-size="11" font-weight="bold" font-style="italic" fill="#111" stroke="#111" stroke-width="0.12">5</text>
<path d="M347.20 339.30H351.40M349.20 328.44H351.40M349.20 322.09H351.40M349.20 317.58H351.40M349.20 314.09H351.40M349.20 311.23H351.40M349.20 308.82H351.40M349.20 306.73H351.40M349.20 304.88H351.40M347.20 303.23H351.40M349.20 292.37H351.40M349.20 286.02H351.40M349.20 281.51H351.40M349.20 278.02H351.40M349.20 275.16H351.40M349.20 272.75H351.40M349.20 270.66H351.40M349.20 268.81H351.40M347.20 267.16H351.40M349.20 256.30H351.40M349.20 249.95H351.40M349.20 245.44H351.40M349.20 241.95H351.40M349.20 239.09H351.40M349.20 236.68H351.40M349.20 234.59H351.40M349.20 232.74H351.40M347.20 231.09H351.40M349.20 220.23H351.40M349.20 213.88H351.40M349.20 209.37H351.40M349.20 205.88H351.40M349.20 203.02H351.40M349.20 200.61H351.40M349.20 198.52H351.40M349.20 196.67H351.40M347.20 195.02H351.40M351.40 339.30V341.30M357.76 339.30V342.90M364.12 339.30V341.30M370.48 339.30V342.90M376.84 339.30V341.30M383.21 339.30V342.90M389.57 339.30V341.30M395.93 339.30V342.90M402.29 339.30V341.30M408.65 339.30V342.90M415.01 339.30V341.30M421.37 339.30V342.90M427.73 339.30V341.30M434.09 339.30V342.90M440.46 339.30V341.30M446.82 339.30V342.90M453.18 339.30V341.30M459.54 339.30V342.90M465.90 339.30V341.30" stroke="#111" stroke-width="1.3" fill="none"/>
<rect x="351.40" y="189.60" width="114.50" height="149.70" fill="none" stroke="#111" stroke-width="1.45"/>
<text x="340.60" y="342.50" text-anchor="end" font-size="8.8" fill="#1c1c1c" stroke="#1c1c1c" stroke-width="0.15">10</text>
<text x="341.00" y="338.50" font-size="6.3" fill="#222" stroke="#222" stroke-width="0.05">2</text>
<text x="340.60" y="306.43" text-anchor="end" font-size="8.8" fill="#1c1c1c" stroke="#1c1c1c" stroke-width="0.15">10</text>
<text x="341.00" y="302.43" font-size="6.3" fill="#222" stroke="#222" stroke-width="0.05">3</text>
<text x="340.60" y="270.36" text-anchor="end" font-size="8.8" fill="#1c1c1c" stroke="#1c1c1c" stroke-width="0.15">10</text>
<text x="341.00" y="266.36" font-size="6.3" fill="#222" stroke="#222" stroke-width="0.05">4</text>
<text x="340.60" y="234.29" text-anchor="end" font-size="8.8" fill="#1c1c1c" stroke="#1c1c1c" stroke-width="0.15">10</text>
<text x="341.00" y="230.29" font-size="6.3" fill="#222" stroke="#222" stroke-width="0.05">5</text>
<text x="340.60" y="198.22" text-anchor="end" font-size="8.8" fill="#1c1c1c" stroke="#1c1c1c" stroke-width="0.15">10</text>
<text x="341.00" y="194.22" font-size="6.3" fill="#222" stroke="#222" stroke-width="0.05">6</text>
<text x="357.76" y="351.80" text-anchor="middle" font-size="7.7" fill="#1c1c1c" stroke="#1c1c1c" stroke-width="0.15">-20</text>
<text x="370.48" y="351.80" text-anchor="middle" font-size="7.7" fill="#1c1c1c" stroke="#1c1c1c" stroke-width="0.15">0</text>
<text x="383.21" y="351.80" text-anchor="middle" font-size="7.7" fill="#1c1c1c" stroke="#1c1c1c" stroke-width="0.15">20</text>
<text x="395.93" y="351.80" text-anchor="middle" font-size="7.7" fill="#1c1c1c" stroke="#1c1c1c" stroke-width="0.15">40</text>
<text x="408.65" y="351.80" text-anchor="middle" font-size="7.7" fill="#1c1c1c" stroke="#1c1c1c" stroke-width="0.15">60</text>
<text x="421.37" y="351.80" text-anchor="middle" font-size="7.7" fill="#1c1c1c" stroke="#1c1c1c" stroke-width="0.15">80</text>
<text x="434.09" y="351.80" text-anchor="middle" font-size="7.7" fill="#1c1c1c" stroke="#1c1c1c" stroke-width="0.15">100</text>
<text x="446.82" y="351.80" text-anchor="middle" font-size="7.7" fill="#1c1c1c" stroke="#1c1c1c" stroke-width="0.15">120</text>
<text x="459.54" y="351.80" text-anchor="middle" font-size="7.7" fill="#1c1c1c" stroke="#1c1c1c" stroke-width="0.15">140</text>
<text x="376.40" y="363.40" font-size="9.3" fill="#222" stroke="#222" stroke-width="0.04">Temperature</text>
<text x="433.20" y="363.90" font-size="9" fill="#222" stroke="#222" stroke-width="0.1">(</text>
<text x="437.10" y="361.30" font-size="4.5" fill="#333">&#176;</text>
<text x="438.20" y="363.70" font-size="8.6" fill="#2a2a2a">C</text>
<text x="445.90" y="363.90" font-size="9" fill="#222" stroke="#222" stroke-width="0.1">)</text>
<text transform="translate(325.60 271.50) rotate(-90)" text-anchor="middle" font-size="9.4" fill="#222" stroke="#222" stroke-width="0.04">Resistivity (&#937;cm)</text>
<path d="M414.20 317.50V338.60" stroke="#808080" stroke-width="1" stroke-dasharray="4.3 3.3" fill="none"/>
<path d="M353.50 318.03 L354.52 318.29 L355.55 318.56 L356.57 318.82 L357.60 319.09 L358.63 319.35 L359.66 319.62 L360.69 319.88 L361.72 320.14 L362.75 320.40 L363.79 320.65 L364.82 320.90 L365.86 321.15 L366.90 321.39 L367.93 321.63 L368.97 321.87 L370.01 322.10 L371.06 322.32 L372.10 322.54 L373.14 322.75 L374.19 322.95 L375.24 323.15 L376.29 323.34 L377.34 323.52 L378.39 323.70 L379.44 323.86 L380.50 324.01 L381.55 324.16 L382.61 324.29 L383.67 324.42 L384.73 324.53 L385.80 324.64 L386.86 324.73 L387.93 324.81 L389.00 324.87 L390.06 324.93 L391.13 324.96 L392.20 324.98 L393.27 324.97 L394.33 324.95 L395.39 324.89 L396.45 324.80 L397.49 324.68 L398.53 324.52 L399.56 324.33 L400.57 324.09 L401.58 323.80 L402.57 323.47 L403.55 323.09 L404.51 322.66 L405.46 322.17 L406.39 321.62 L407.29 321.03 L408.18 320.40 L409.05 319.73 L409.90 319.03 L410.72 318.31 L411.51 317.56 L412.27 316.78 L412.98 315.98 L413.64 315.15 L414.24 314.29 L414.78 313.41 L415.24 312.49 L415.64 311.54 L415.97 310.57 L416.24 309.57 L416.46 308.55 L416.63 307.51 L416.77 306.46 L416.87 305.40 L416.95 304.33 L417.02 303.25 L417.08 302.18 L417.12 301.10 L417.17 300.02 L417.22 298.94 L417.27 297.86 L417.34 296.78 L417.41 295.71 L417.50 294.64 L417.62 293.58 L417.75 292.52 L417.92 291.47 L418.11 290.43 L418.32 289.39 L418.57 288.37 L418.83 287.34 L419.11 286.33 L419.41 285.31 L419.73 284.30 L420.06 283.30 L420.41 282.30 L420.76 281.30 L421.13 280.30 L421.50 279.31 L421.89 278.32 L422.27 277.33 L422.66 276.33 L423.05 275.34 L423.44 274.35 L423.83 273.36 L424.22 272.37 L424.61 271.38 L425.00 270.39 L425.39 269.40 L425.79 268.41 L426.18 267.42 L426.58 266.43 L426.97 265.44 L427.37 264.45 L427.77 263.46 L428.17 262.47 L428.57 261.49 L428.98 260.50 L429.38 259.51 L429.79 258.53 L430.20 257.54 L430.61 256.56 L431.02 255.58 L431.44 254.60 L431.85 253.62 L432.27 252.64 L432.69 251.66 L433.12 250.68 L433.54 249.71 L433.97 248.73 L434.41 247.76 L434.84 246.79 L435.28 245.82 L435.72 244.85 L436.16 243.88 L436.61 242.91 L437.06 241.95 L437.51 240.99 L437.96 240.03 L438.42 239.07 L438.89 238.11 L439.35 237.16 L439.82 236.20 L440.30 235.25 L440.77 234.30 L441.25 233.36 L441.74 232.41 L442.23 231.47 L442.72 230.53 L443.22 229.59 L443.72 228.66 L444.23 227.72 L444.74 226.79 L445.25 225.87 L445.77 224.94 L446.30 224.02 L446.83 223.10 L447.36 222.18 L447.90 221.27 L448.45 220.36 L449.00 219.45 L449.55 218.54 L450.11 217.64 L450.68 216.74 L451.25 215.84 L451.83 214.95 L452.41 214.06 L453.00 213.17 L453.59 212.29 L454.19 211.41 L454.80 210.53 L455.41 209.66 L456.02 208.79 L456.65 207.93 L457.28 207.06 L457.92 206.21 L458.56 205.35 L459.21 204.50 L459.87 203.65 L460.53 202.81 L461.20 201.97 L461.88 201.14 L462.56 200.31" stroke="#ff0000" stroke-width="1.7" fill="none" stroke-linecap="round" stroke-linejoin="round"/>
<path d="M354.77 320.30 L355.81 320.67 L356.85 321.04 L357.88 321.39 L358.91 321.73 L359.94 322.06 L360.96 322.39 L361.98 322.70 L363.01 323.00 L364.03 323.30 L365.05 323.58 L366.07 323.86 L367.09 324.13 L368.11 324.39 L369.13 324.63 L370.16 324.87 L371.18 325.10 L372.21 325.32 L373.24 325.54 L374.27 325.74 L375.30 325.93 L376.34 326.12 L377.38 326.30 L378.43 326.47 L379.48 326.63 L380.54 326.78 L381.60 326.92 L382.66 327.05 L383.73 327.18 L384.81 327.30 L385.90 327.41 L386.99 327.51 L388.09 327.60 L389.19 327.69 L390.30 327.76 L391.42 327.82 L392.54 327.86 L393.65 327.88 L394.76 327.87 L395.85 327.82 L396.94 327.74 L398.00 327.61 L399.05 327.44 L400.08 327.22 L401.08 326.94 L402.05 326.59 L402.99 326.19 L403.90 325.71 L404.77 325.15 L405.59 324.52 L406.37 323.82 L407.11 323.05 L407.81 322.23 L408.45 321.36 L409.05 320.47 L409.60 319.55 L410.10 318.61 L410.56 317.66 L410.98 316.69 L411.35 315.71 L411.69 314.71 L411.99 313.71 L412.26 312.69 L412.51 311.66 L412.72 310.62 L412.91 309.57 L413.08 308.52 L413.23 307.45 L413.37 306.39 L413.49 305.31 L413.60 304.23 L413.71 303.15 L413.80 302.07 L413.90 300.99 L413.99 299.90 L414.09 298.82 L414.19 297.74 L414.30 296.65 L414.43 295.58 L414.56 294.50 L414.71 293.44 L414.88 292.37 L415.07 291.32 L415.27 290.27 L415.50 289.23 L415.75 288.19 L416.01 287.16 L416.29 286.13 L416.58 285.11 L416.88 284.09 L417.20 283.07 L417.52 282.06 L417.86 281.05 L418.20 280.05 L418.55 279.04 L418.91 278.04 L419.27 277.04 L419.64 276.03 L420.00 275.03 L420.37 274.03 L420.74 273.03 L421.11 272.03 L421.49 271.03 L421.87 270.03 L422.24 269.03 L422.63 268.03 L423.01 267.04 L423.40 266.04 L423.79 265.04 L424.18 264.05 L424.58 263.05 L424.98 262.06 L425.38 261.07 L425.78 260.08 L426.19 259.09 L426.60 258.10 L427.01 257.11 L427.43 256.12 L427.85 255.14 L428.28 254.15 L428.70 253.17 L429.13 252.19 L429.57 251.21 L430.01 250.24 L430.45 249.26 L430.90 248.29 L431.35 247.32 L431.80 246.35 L432.26 245.38 L432.72 244.42 L433.19 243.46 L433.66 242.50 L434.13 241.54 L434.61 240.58 L435.09 239.63 L435.58 238.68 L436.08 237.73 L436.57 236.79 L437.08 235.84 L437.58 234.90 L438.09 233.97 L438.61 233.03 L439.13 232.10 L439.66 231.18 L440.19 230.25 L440.73 229.33 L441.27 228.41 L441.82 227.49 L442.37 226.58 L442.93 225.67 L443.50 224.77 L444.07 223.87 L444.64 222.97 L445.22 222.08 L445.81 221.19 L446.40 220.30 L447.00 219.42 L447.61 218.54 L448.22 217.66 L448.84 216.79 L449.46 215.93 L450.09 215.06 L450.73 214.21 L451.37 213.35 L452.02 212.50 L452.67 211.66 L453.34 210.82 L454.01 209.98 L454.68 209.15 L455.36 208.32 L456.05 207.50 L456.75 206.68 L457.45 205.87 L458.17 205.06 L458.88 204.26 L459.61 203.47 L460.34 202.67 L461.08 201.89 L461.83 201.11 L462.58 200.33" stroke="#0000ff" stroke-width="1.7" fill="none" stroke-linecap="round" stroke-linejoin="round"/>
<path d="M367.40 248.90H384.20" stroke="#ff0000" stroke-width="1.6"/>
<path d="M367.40 257.50H384.20" stroke="#0000ff" stroke-width="1.6"/>
<text x="385.60" y="251.30" font-size="6.9" fill="#222" stroke="#222" stroke-width="0.04">heating</text>
<text x="385.60" y="259.90" font-size="6.9" fill="#222" stroke="#222" stroke-width="0.04">cooling</text>
<text x="437.20" y="315.50" font-size="11" font-weight="bold" font-style="italic" fill="#111" stroke="#111" stroke-width="0.12">6</text>
<path d="M34.70 519.80H38.90M36.70 508.94H38.90M36.70 502.59H38.90M36.70 498.08H38.90M36.70 494.59H38.90M36.70 491.73H38.90M36.70 489.32H38.90M36.70 487.23H38.90M36.70 485.38H38.90M34.70 483.73H38.90M36.70 472.87H38.90M36.70 466.52H38.90M36.70 462.01H38.90M36.70 458.52H38.90M36.70 455.66H38.90M36.70 453.25H38.90M36.70 451.16H38.90M36.70 449.31H38.90M34.70 447.66H38.90M36.70 436.80H38.90M36.70 430.45H38.90M36.70 425.94H38.90M36.70 422.45H38.90M36.70 419.59H38.90M36.70 417.18H38.90M36.70 415.09H38.90M36.70 413.24H38.90M34.70 411.59H38.90M36.70 400.73H38.90M36.70 394.38H38.90M36.70 389.87H38.90M36.70 386.38H38.90M36.70 383.52H38.90M36.70 381.11H38.90M36.70 379.02H38.90M36.70 377.17H38.90M34.70 375.52H38.90M38.90 519.80V521.80M45.26 519.80V523.40M51.62 519.80V521.80M57.98 519.80V523.40M64.34 519.80V521.80M70.71 519.80V523.40M77.07 519.80V521.80M83.43 519.80V523.40M89.79 519.80V521.80M96.15 519.80V523.40M102.51 519.80V521.80M108.87 519.80V523.40M115.23 519.80V521.80M121.59 519.80V523.40M127.96 519.80V521.80M134.32 519.80V523.40M140.68 519.80V521.80M147.04 519.80V523.40M153.40 519.80V521.80" stroke="#111" stroke-width="1.3" fill="none"/>
<rect x="38.90" y="370.10" width="114.50" height="149.70" fill="none" stroke="#111" stroke-width="1.45"/>
<text x="28.10" y="523.00" text-anchor="end" font-size="8.8" fill="#1c1c1c" stroke="#1c1c1c" stroke-width="0.15">10</text>
<text x="28.50" y="519.00" font-size="6.3" fill="#222" stroke="#222" stroke-width="0.05">2</text>
<text x="28.10" y="486.93" text-anchor="end" font-size="8.8" fill="#1c1c1c" stroke="#1c1c1c" stroke-width="0.15">10</text>
<text x="28.50" y="482.93" font-size="6.3" fill="#222" stroke="#222" stroke-width="0.05">3</text>
<text x="28.10" y="450.86" text-anchor="end" font-size="8.8" fill="#1c1c1c" stroke="#1c1c1c" stroke-width="0.15">10</text>
<text x="28.50" y="446.86" font-size="6.3" fill="#222" stroke="#222" stroke-width="0.05">4</text>
<text x="28.10" y="414.79" text-anchor="end" font-size="8.8" fill="#1c1c1c" stroke="#1c1c1c" stroke-width="0.15">10</text>
<text x="28.50" y="410.79" font-size="6.3" fill="#222" stroke="#222" stroke-width="0.05">5</text>
<text x="28.10" y="378.72" text-anchor="end" font-size="8.8" fill="#1c1c1c" stroke="#1c1c1c" stroke-width="0.15">10</text>
<text x="28.50" y="374.72" font-size="6.3" fill="#222" stroke="#222" stroke-width="0.05">6</text>
<text x="45.26" y="532.30" text-anchor="middle" font-size="7.7" fill="#1c1c1c" stroke="#1c1c1c" stroke-width="0.15">-20</text>
<text x="57.98" y="532.30" text-anchor="middle" font-size="7.7" fill="#1c1c1c" stroke="#1c1c1c" stroke-width="0.15">0</text>
<text x="70.71" y="532.30" text-anchor="middle" font-size="7.7" fill="#1c1c1c" stroke="#1c1c1c" stroke-width="0.15">20</text>
<text x="83.43" y="532.30" text-anchor="middle" font-size="7.7" fill="#1c1c1c" stroke="#1c1c1c" stroke-width="0.15">40</text>
<text x="96.15" y="532.30" text-anchor="middle" font-size="7.7" fill="#1c1c1c" stroke="#1c1c1c" stroke-width="0.15">60</text>
<text x="108.87" y="532.30" text-anchor="middle" font-size="7.7" fill="#1c1c1c" stroke="#1c1c1c" stroke-width="0.15">80</text>
<text x="121.59" y="532.30" text-anchor="middle" font-size="7.7" fill="#1c1c1c" stroke="#1c1c1c" stroke-width="0.15">100</text>
<text x="134.32" y="532.30" text-anchor="middle" font-size="7.7" fill="#1c1c1c" stroke="#1c1c1c" stroke-width="0.15">120</text>
<text x="147.04" y="532.30" text-anchor="middle" font-size="7.7" fill="#1c1c1c" stroke="#1c1c1c" stroke-width="0.15">140</text>
<text x="63.90" y="543.90" font-size="9.3" fill="#222" stroke="#222" stroke-width="0.04">Temperature</text>
<text x="120.70" y="544.40" font-size="9" fill="#222" stroke="#222" stroke-width="0.1">(</text>
<text x="124.60" y="541.80" font-size="4.5" fill="#333">&#176;</text>
<text x="125.70" y="544.20" font-size="8.6" fill="#2a2a2a">C</text>
<text x="133.40" y="544.40" font-size="9" fill="#222" stroke="#222" stroke-width="0.1">)</text>
<text transform="translate(13.10 452.00) rotate(-90)" text-anchor="middle" font-size="9.4" fill="#222" stroke="#222" stroke-width="0.04">Resistivity (&#937;cm)</text>
<path d="M102.20 499.60V519.10" stroke="#808080" stroke-width="1" stroke-dasharray="4.3 3.3" fill="none"/>
<path d="M41.81 501.67 L42.79 502.00 L43.77 502.32 L44.76 502.63 L45.75 502.93 L46.74 503.23 L47.73 503.52 L48.73 503.80 L49.72 504.07 L50.72 504.34 L51.72 504.60 L52.73 504.84 L53.73 505.08 L54.74 505.32 L55.74 505.54 L56.75 505.76 L57.77 505.97 L58.78 506.16 L59.79 506.36 L60.81 506.54 L61.83 506.71 L62.85 506.88 L63.87 507.03 L64.89 507.18 L65.91 507.32 L66.94 507.45 L67.97 507.57 L68.99 507.68 L70.02 507.79 L71.05 507.88 L72.08 507.97 L73.12 508.05 L74.15 508.11 L75.18 508.17 L76.22 508.22 L77.25 508.26 L78.29 508.29 L79.32 508.30 L80.36 508.29 L81.39 508.26 L82.42 508.21 L83.44 508.13 L84.46 508.03 L85.47 507.89 L86.48 507.73 L87.48 507.52 L88.48 507.28 L89.46 507.00 L90.44 506.67 L91.41 506.30 L92.37 505.88 L93.31 505.42 L94.24 504.90 L95.15 504.35 L96.04 503.76 L96.90 503.13 L97.73 502.47 L98.52 501.77 L99.27 501.04 L99.96 500.28 L100.60 499.49 L101.17 498.66 L101.67 497.80 L102.09 496.90 L102.43 495.97 L102.70 495.02 L102.91 494.03 L103.08 493.03 L103.20 492.01 L103.30 490.98 L103.37 489.94 L103.43 488.90 L103.50 487.85 L103.56 486.81 L103.63 485.76 L103.70 484.72 L103.78 483.68 L103.86 482.64 L103.96 481.60 L104.06 480.56 L104.17 479.53 L104.30 478.50 L104.44 477.47 L104.59 476.45 L104.77 475.43 L104.95 474.42 L105.16 473.41 L105.39 472.41 L105.64 471.42 L105.91 470.43 L106.20 469.45 L106.52 468.48 L106.87 467.51 L107.23 466.55 L107.62 465.60 L108.02 464.65 L108.44 463.71 L108.87 462.77 L109.32 461.83 L109.77 460.89 L110.22 459.96 L110.69 459.03 L111.15 458.10 L111.61 457.16 L112.07 456.23 L112.52 455.29 L112.97 454.36 L113.41 453.42 L113.84 452.47 L114.25 451.52 L114.65 450.57 L115.04 449.61 L115.43 448.66 L115.81 447.70 L116.19 446.74 L116.57 445.78 L116.96 444.83 L117.35 443.87 L117.75 442.92 L118.15 441.97 L118.56 441.02 L118.98 440.08 L119.40 439.14 L119.83 438.20 L120.27 437.26 L120.71 436.33 L121.16 435.40 L121.61 434.47 L122.07 433.54 L122.53 432.62 L123.00 431.70 L123.47 430.78 L123.95 429.86 L124.43 428.94 L124.91 428.03 L125.40 427.12 L125.89 426.21 L126.38 425.30 L126.88 424.39 L127.38 423.49 L127.89 422.59 L128.40 421.69 L128.91 420.79 L129.42 419.89 L129.94 419.00 L130.47 418.11 L130.99 417.22 L131.52 416.33 L132.06 415.45 L132.59 414.57 L133.14 413.69 L133.68 412.81 L134.23 411.94 L134.78 411.06 L135.34 410.19 L135.90 409.33 L136.46 408.46 L137.03 407.60 L137.60 406.74 L138.18 405.88 L138.76 405.03 L139.34 404.17 L139.93 403.32 L140.52 402.48 L141.11 401.63 L141.71 400.79 L142.31 399.95 L142.92 399.12 L143.53 398.28 L144.14 397.45 L144.76 396.62 L145.38 395.80 L146.01 394.98 L146.64 394.16 L147.27 393.34 L147.91 392.53 L148.56 391.72 L149.20 390.91 L149.85 390.10 L150.51 389.30" stroke="#ff0000" stroke-width="1.7" fill="none" stroke-linecap="round" stroke-linejoin="round"/>
<path d="M41.77 503.58 L42.79 503.93 L43.81 504.26 L44.83 504.57 L45.84 504.88 L46.85 505.17 L47.86 505.44 L48.86 505.70 L49.87 505.95 L50.87 506.19 L51.87 506.42 L52.87 506.64 L53.87 506.84 L54.87 507.04 L55.87 507.22 L56.88 507.40 L57.88 507.57 L58.88 507.73 L59.89 507.88 L60.89 508.02 L61.90 508.15 L62.91 508.28 L63.93 508.40 L64.94 508.51 L65.97 508.62 L66.99 508.72 L68.02 508.82 L69.05 508.91 L70.09 509.00 L71.13 509.08 L72.18 509.16 L73.23 509.24 L74.29 509.31 L75.36 509.38 L76.43 509.45 L77.51 509.51 L78.59 509.57 L79.67 509.61 L80.75 509.63 L81.83 509.63 L82.89 509.61 L83.95 509.56 L84.99 509.47 L86.03 509.35 L87.04 509.18 L88.04 508.97 L89.01 508.70 L89.96 508.39 L90.88 508.01 L91.78 507.58 L92.64 507.08 L93.47 506.51 L94.26 505.88 L95.01 505.20 L95.72 504.46 L96.39 503.68 L97.01 502.85 L97.57 501.98 L98.09 501.07 L98.54 500.14 L98.94 499.17 L99.28 498.19 L99.55 497.18 L99.76 496.16 L99.92 495.13 L100.04 494.08 L100.13 493.03 L100.19 491.97 L100.25 490.91 L100.30 489.85 L100.36 488.80 L100.44 487.75 L100.54 486.70 L100.65 485.66 L100.79 484.63 L100.95 483.60 L101.12 482.58 L101.30 481.56 L101.51 480.55 L101.72 479.54 L101.95 478.54 L102.20 477.54 L102.45 476.54 L102.72 475.55 L103.00 474.56 L103.28 473.57 L103.58 472.58 L103.88 471.60 L104.20 470.62 L104.51 469.64 L104.84 468.66 L105.17 467.68 L105.50 466.71 L105.84 465.74 L106.19 464.76 L106.54 463.79 L106.90 462.82 L107.26 461.85 L107.62 460.89 L107.99 459.92 L108.37 458.96 L108.75 457.99 L109.13 457.03 L109.52 456.07 L109.92 455.11 L110.31 454.16 L110.72 453.20 L111.12 452.25 L111.53 451.29 L111.95 450.34 L112.37 449.39 L112.79 448.44 L113.22 447.50 L113.65 446.55 L114.08 445.61 L114.52 444.67 L114.96 443.72 L115.41 442.78 L115.85 441.85 L116.31 440.91 L116.76 439.98 L117.22 439.04 L117.68 438.11 L118.15 437.18 L118.61 436.25 L119.08 435.32 L119.56 434.40 L120.03 433.47 L120.51 432.55 L120.99 431.63 L121.48 430.71 L121.96 429.79 L122.45 428.87 L122.94 427.96 L123.43 427.04 L123.93 426.13 L124.43 425.22 L124.93 424.31 L125.43 423.41 L125.94 422.50 L126.45 421.60 L126.96 420.70 L127.47 419.81 L127.99 418.91 L128.52 418.02 L129.05 417.13 L129.58 416.24 L130.11 415.36 L130.65 414.48 L131.20 413.60 L131.75 412.73 L132.30 411.86 L132.86 410.99 L133.43 410.13 L134.00 409.27 L134.58 408.41 L135.16 407.56 L135.75 406.71 L136.34 405.87 L136.94 405.03 L137.55 404.19 L138.17 403.36 L138.79 402.54 L139.41 401.72 L140.05 400.90 L140.69 400.09 L141.34 399.28 L142.00 398.48 L142.67 397.69 L143.34 396.90 L144.03 396.11 L144.72 395.33 L145.42 394.56 L146.13 393.79 L146.84 393.03 L147.57 392.28 L148.31 391.53 L149.05 390.79 L149.81 390.05 L150.57 389.32" stroke="#0000ff" stroke-width="1.7" fill="none" stroke-linecap="round" stroke-linejoin="round"/>
<path d="M54.70 429.20H71.50" stroke="#ff0000" stroke-width="1.6"/>
<path d="M54.70 438.00H71.50" stroke="#0000ff" stroke-width="1.6"/>
<text x="72.90" y="431.60" font-size="6.9" fill="#222" stroke="#222" stroke-width="0.04">heating</text>
<text x="72.90" y="440.40" font-size="6.9" fill="#222" stroke="#222" stroke-width="0.04">cooling</text>
<text x="125.10" y="493.00" font-size="11" font-weight="bold" font-style="italic" fill="#111" stroke="#111" stroke-width="0.12">7</text>
<path d="M190.95 519.80H195.15M192.95 508.94H195.15M192.95 502.59H195.15M192.95 498.08H195.15M192.95 494.59H195.15M192.95 491.73H195.15M192.95 489.32H195.15M192.95 487.23H195.15M192.95 485.38H195.15M190.95 483.73H195.15M192.95 472.87H195.15M192.95 466.52H195.15M192.95 462.01H195.15M192.95 458.52H195.15M192.95 455.66H195.15M192.95 453.25H195.15M192.95 451.16H195.15M192.95 449.31H195.15M190.95 447.66H195.15M192.95 436.80H195.15M192.95 430.45H195.15M192.95 425.94H195.15M192.95 422.45H195.15M192.95 419.59H195.15M192.95 417.18H195.15M192.95 415.09H195.15M192.95 413.24H195.15M190.95 411.59H195.15M192.95 400.73H195.15M192.95 394.38H195.15M192.95 389.87H195.15M192.95 386.38H195.15M192.95 383.52H195.15M192.95 381.11H195.15M192.95 379.02H195.15M192.95 377.17H195.15M190.95 375.52H195.15M195.15 519.80V521.80M201.51 519.80V523.40M207.87 519.80V521.80M214.23 519.80V523.40M220.59 519.80V521.80M226.96 519.80V523.40M233.32 519.80V521.80M239.68 519.80V523.40M246.04 519.80V521.80M252.40 519.80V523.40M258.76 519.80V521.80M265.12 519.80V523.40M271.48 519.80V521.80M277.84 519.80V523.40M284.21 519.80V521.80M290.57 519.80V523.40M296.93 519.80V521.80M303.29 519.80V523.40M309.65 519.80V521.80" stroke="#111" stroke-width="1.3" fill="none"/>
<rect x="195.15" y="370.10" width="114.50" height="149.70" fill="none" stroke="#111" stroke-width="1.45"/>
<text x="184.35" y="523.00" text-anchor="end" font-size="8.8" fill="#1c1c1c" stroke="#1c1c1c" stroke-width="0.15">10</text>
<text x="184.75" y="519.00" font-size="6.3" fill="#222" stroke="#222" stroke-width="0.05">2</text>
<text x="184.35" y="486.93" text-anchor="end" font-size="8.8" fill="#1c1c1c" stroke="#1c1c1c" stroke-width="0.15">10</text>
<text x="184.75" y="482.93" font-size="6.3" fill="#222" stroke="#222" stroke-width="0.05">3</text>
<text x="184.35" y="450.86" text-anchor="end" font-size="8.8" fill="#1c1c1c" stroke="#1c1c1c" stroke-width="0.15">10</text>
<text x="184.75" y="446.86" font-size="6.3" fill="#222" stroke="#222" stroke-width="0.05">4</text>
<text x="184.35" y="414.79" text-anchor="end" font-size="8.8" fill="#1c1c1c" stroke="#1c1c1c" stroke-width="0.15">10</text>
<text x="184.75" y="410.79" font-size="6.3" fill="#222" stroke="#222" stroke-width="0.05">5</text>
<text x="184.35" y="378.72" text-anchor="end" font-size="8.8" fill="#1c1c1c" stroke="#1c1c1c" stroke-width="0.15">10</text>
<text x="184.75" y="374.72" font-size="6.3" fill="#222" stroke="#222" stroke-width="0.05">6</text>
<text x="201.51" y="532.30" text-anchor="middle" font-size="7.7" fill="#1c1c1c" stroke="#1c1c1c" stroke-width="0.15">-20</text>
<text x="214.23" y="532.30" text-anchor="middle" font-size="7.7" fill="#1c1c1c" stroke="#1c1c1c" stroke-width="0.15">0</text>
<text x="226.96" y="532.30" text-anchor="middle" font-size="7.7" fill="#1c1c1c" stroke="#1c1c1c" stroke-width="0.15">20</text>
<text x="239.68" y="532.30" text-anchor="middle" font-size="7.7" fill="#1c1c1c" stroke="#1c1c1c" stroke-width="0.15">40</text>
<text x="252.40" y="532.30" text-anchor="middle" font-size="7.7" fill="#1c1c1c" stroke="#1c1c1c" stroke-width="0.15">60</text>
<text x="265.12" y="532.30" text-anchor="middle" font-size="7.7" fill="#1c1c1c" stroke="#1c1c1c" stroke-width="0.15">80</text>
<text x="277.84" y="532.30" text-anchor="middle" font-size="7.7" fill="#1c1c1c" stroke="#1c1c1c" stroke-width="0.15">100</text>
<text x="290.57" y="532.30" text-anchor="middle" font-size="7.7" fill="#1c1c1c" stroke="#1c1c1c" stroke-width="0.15">120</text>
<text x="303.29" y="532.30" text-anchor="middle" font-size="7.7" fill="#1c1c1c" stroke="#1c1c1c" stroke-width="0.15">140</text>
<text x="220.15" y="543.90" font-size="9.3" fill="#222" stroke="#222" stroke-width="0.04">Temperature</text>
<text x="276.95" y="544.40" font-size="9" fill="#222" stroke="#222" stroke-width="0.1">(</text>
<text x="280.85" y="541.80" font-size="4.5" fill="#333">&#176;</text>
<text x="281.95" y="544.20" font-size="8.6" fill="#2a2a2a">C</text>
<text x="289.65" y="544.40" font-size="9" fill="#222" stroke="#222" stroke-width="0.1">)</text>
<text transform="translate(169.35 452.00) rotate(-90)" text-anchor="middle" font-size="9.4" fill="#222" stroke="#222" stroke-width="0.04">Resistivity (&#937;cm)</text>
<path d="M257.60 499.10V519.10" stroke="#808080" stroke-width="1" stroke-dasharray="4.3 3.3" fill="none"/>
<path d="M197.30 501.28 L198.31 501.60 L199.32 501.92 L200.34 502.23 L201.35 502.53 L202.36 502.83 L203.38 503.12 L204.39 503.41 L205.40 503.69 L206.42 503.96 L207.43 504.22 L208.45 504.48 L209.47 504.74 L210.48 504.98 L211.50 505.22 L212.52 505.45 L213.54 505.68 L214.57 505.90 L215.59 506.11 L216.62 506.32 L217.64 506.52 L218.67 506.71 L219.70 506.89 L220.74 507.07 L221.77 507.24 L222.81 507.40 L223.85 507.56 L224.89 507.70 L225.94 507.84 L226.99 507.98 L228.04 508.10 L229.09 508.22 L230.15 508.33 L231.21 508.43 L232.27 508.53 L233.33 508.61 L234.40 508.69 L235.47 508.75 L236.54 508.79 L237.60 508.82 L238.66 508.82 L239.72 508.78 L240.76 508.72 L241.80 508.62 L242.82 508.47 L243.83 508.29 L244.83 508.05 L245.81 507.76 L246.77 507.42 L247.71 507.02 L248.63 506.55 L249.52 506.01 L250.39 505.42 L251.24 504.77 L252.07 504.07 L252.87 503.33 L253.65 502.57 L254.42 501.79 L255.16 501.00 L255.87 500.19 L256.54 499.37 L257.17 498.52 L257.75 497.66 L258.26 496.77 L258.69 495.85 L259.06 494.90 L259.35 493.92 L259.59 492.92 L259.78 491.91 L259.92 490.87 L260.03 489.83 L260.11 488.77 L260.17 487.70 L260.21 486.64 L260.25 485.56 L260.28 484.49 L260.32 483.42 L260.36 482.36 L260.42 481.29 L260.49 480.23 L260.58 479.17 L260.69 478.12 L260.83 477.08 L261.00 476.05 L261.20 475.02 L261.42 474.00 L261.67 472.98 L261.93 471.97 L262.21 470.96 L262.50 469.96 L262.81 468.96 L263.13 467.96 L263.46 466.97 L263.80 465.98 L264.15 464.99 L264.50 464.00 L264.87 463.02 L265.24 462.04 L265.62 461.06 L266.01 460.08 L266.40 459.11 L266.80 458.13 L267.21 457.16 L267.62 456.19 L268.03 455.22 L268.45 454.25 L268.87 453.29 L269.30 452.32 L269.72 451.36 L270.15 450.39 L270.58 449.43 L271.01 448.47 L271.44 447.50 L271.87 446.54 L272.30 445.58 L272.73 444.62 L273.16 443.65 L273.59 442.69 L274.01 441.73 L274.44 440.76 L274.86 439.80 L275.29 438.84 L275.71 437.88 L276.14 436.92 L276.56 435.96 L276.99 435.00 L277.42 434.04 L277.86 433.09 L278.29 432.13 L278.73 431.18 L279.18 430.23 L279.63 429.28 L280.08 428.33 L280.54 427.39 L281.00 426.44 L281.47 425.50 L281.94 424.57 L282.42 423.63 L282.91 422.70 L283.40 421.77 L283.89 420.84 L284.39 419.91 L284.90 418.99 L285.41 418.07 L285.92 417.15 L286.44 416.24 L286.97 415.33 L287.50 414.42 L288.03 413.51 L288.57 412.60 L289.11 411.70 L289.66 410.80 L290.22 409.91 L290.77 409.01 L291.33 408.12 L291.90 407.23 L292.47 406.35 L293.05 405.47 L293.63 404.59 L294.21 403.71 L294.80 402.84 L295.39 401.96 L295.98 401.10 L296.58 400.23 L297.19 399.37 L297.80 398.51 L298.41 397.65 L299.02 396.80 L299.64 395.95 L300.26 395.10 L300.89 394.25 L301.52 393.41 L302.15 392.58 L302.79 391.74 L303.43 390.91 L304.07 390.08 L304.72 389.25 L305.37 388.43 L306.02 387.61 L306.68 386.79" stroke="#ff0000" stroke-width="1.7" fill="none" stroke-linecap="round" stroke-linejoin="round"/>
<path d="M197.28 501.69 L198.29 502.10 L199.30 502.49 L200.32 502.86 L201.33 503.22 L202.34 503.56 L203.35 503.89 L204.36 504.20 L205.38 504.50 L206.39 504.79 L207.41 505.06 L208.42 505.33 L209.44 505.58 L210.45 505.81 L211.47 506.04 L212.49 506.25 L213.51 506.46 L214.54 506.65 L215.56 506.84 L216.59 507.02 L217.62 507.18 L218.65 507.34 L219.69 507.50 L220.73 507.64 L221.77 507.78 L222.81 507.91 L223.86 508.03 L224.91 508.15 L225.96 508.27 L227.02 508.38 L228.08 508.48 L229.15 508.58 L230.22 508.68 L231.29 508.77 L232.37 508.86 L233.45 508.95 L234.53 509.04 L235.62 509.11 L236.71 509.17 L237.79 509.22 L238.87 509.24 L239.95 509.23 L241.01 509.19 L242.07 509.12 L243.11 509.01 L244.15 508.85 L245.16 508.65 L246.16 508.39 L247.14 508.08 L248.10 507.70 L249.04 507.26 L249.95 506.75 L250.83 506.17 L251.66 505.53 L252.44 504.82 L253.16 504.05 L253.80 503.23 L254.36 502.34 L254.83 501.40 L255.24 500.42 L255.57 499.41 L255.85 498.37 L256.07 497.31 L256.24 496.25 L256.38 495.18 L256.48 494.10 L256.55 493.03 L256.60 491.96 L256.65 490.89 L256.68 489.82 L256.72 488.75 L256.77 487.68 L256.84 486.62 L256.92 485.57 L257.03 484.51 L257.17 483.47 L257.32 482.43 L257.49 481.39 L257.68 480.35 L257.89 479.32 L258.12 478.30 L258.36 477.27 L258.62 476.25 L258.89 475.24 L259.17 474.22 L259.46 473.21 L259.76 472.20 L260.07 471.19 L260.38 470.18 L260.70 469.18 L261.03 468.17 L261.36 467.17 L261.69 466.17 L262.03 465.17 L262.37 464.17 L262.72 463.18 L263.07 462.18 L263.43 461.19 L263.79 460.19 L264.15 459.20 L264.52 458.21 L264.89 457.22 L265.27 456.24 L265.65 455.25 L266.03 454.26 L266.42 453.28 L266.82 452.30 L267.21 451.32 L267.61 450.34 L268.02 449.36 L268.43 448.39 L268.84 447.41 L269.25 446.44 L269.67 445.47 L270.10 444.50 L270.52 443.53 L270.95 442.56 L271.39 441.60 L271.83 440.63 L272.27 439.67 L272.71 438.71 L273.16 437.75 L273.61 436.79 L274.07 435.84 L274.52 434.88 L274.98 433.93 L275.45 432.98 L275.92 432.03 L276.39 431.08 L276.86 430.13 L277.34 429.19 L277.82 428.24 L278.30 427.30 L278.79 426.36 L279.28 425.42 L279.77 424.49 L280.26 423.55 L280.76 422.62 L281.27 421.69 L281.77 420.76 L282.29 419.84 L282.80 418.92 L283.32 418.00 L283.84 417.08 L284.37 416.16 L284.90 415.25 L285.44 414.34 L285.98 413.44 L286.53 412.54 L287.08 411.64 L287.64 410.74 L288.21 409.85 L288.78 408.97 L289.35 408.08 L289.93 407.20 L290.52 406.33 L291.11 405.46 L291.71 404.59 L292.32 403.73 L292.93 402.87 L293.55 402.01 L294.17 401.17 L294.81 400.32 L295.45 399.48 L296.09 398.65 L296.75 397.82 L297.41 397.00 L298.08 396.18 L298.76 395.37 L299.44 394.56 L300.14 393.76 L300.84 392.96 L301.55 392.17 L302.27 391.39 L302.99 390.61 L303.73 389.84 L304.47 389.08 L305.23 388.32 L305.99 387.57 L306.76 386.82" stroke="#0000ff" stroke-width="1.7" fill="none" stroke-linecap="round" stroke-linejoin="round"/>
<path d="M211.00 429.20H227.80" stroke="#ff0000" stroke-width="1.6"/>
<path d="M211.00 438.00H227.80" stroke="#0000ff" stroke-width="1.6"/>
<text x="229.20" y="431.60" font-size="6.9" fill="#222" stroke="#222" stroke-width="0.04">heating</text>
<text x="229.20" y="440.40" font-size="6.9" fill="#222" stroke="#222" stroke-width="0.04">cooling</text>
<text x="281.00" y="492.80" font-size="11" font-weight="bold" font-style="italic" fill="#111" stroke="#111" stroke-width="0.12">8</text>
<path d="M347.20 519.80H351.40M349.20 508.94H351.40M349.20 502.59H351.40M349.20 498.08H351.40M349.20 494.59H351.40M349.20 491.73H351.40M349.20 489.32H351.40M349.20 487.23H351.40M349.20 485.38H351.40M347.20 483.73H351.40M349.20 472.87H351.40M349.20 466.52H351.40M349.20 462.01H351.40M349.20 458.52H351.40M349.20 455.66H351.40M349.20 453.25H351.40M349.20 451.16H351.40M349.20 449.31H351.40M347.20 447.66H351.40M349.20 436.80H351.40M349.20 430.45H351.40M349.20 425.94H351.40M349.20 422.45H351.40M349.20 419.59H351.40M349.20 417.18H351.40M349.20 415.09H351.40M349.20 413.24H351.40M347.20 411.59H351.40M349.20 400.73H351.40M349.20 394.38H351.40M349.20 389.87H351.40M349.20 386.38H351.40M349.20 383.52H351.40M349.20 381.11H351.40M349.20 379.02H351.40M349.20 377.17H351.40M347.20 375.52H351.40M351.40 519.80V521.80M357.76 519.80V523.40M364.12 519.80V521.80M370.48 519.80V523.40M376.84 519.80V521.80M383.21 519.80V523.40M389.57 519.80V521.80M395.93 519.80V523.40M402.29 519.80V521.80M408.65 519.80V523.40M415.01 519.80V521.80M421.37 519.80V523.40M427.73 519.80V521.80M434.09 519.80V523.40M440.46 519.80V521.80M446.82 519.80V523.40M453.18 519.80V521.80M459.54 519.80V523.40M465.90 519.80V521.80" stroke="#111" stroke-width="1.3" fill="none"/>
<rect x="351.40" y="370.10" width="114.50" height="149.70" fill="none" stroke="#111" stroke-width="1.45"/>
<text x="340.60" y="523.00" text-anchor="end" font-size="8.8" fill="#1c1c1c" stroke="#1c1c1c" stroke-width="0.15">10</text>
<text x="341.00" y="519.00" font-size="6.3" fill="#222" stroke="#222" stroke-width="0.05">2</text>
<text x="340.60" y="486.93" text-anchor="end" font-size="8.8" fill="#1c1c1c" stroke="#1c1c1c" stroke-width="0.15">10</text>
<text x="341.00" y="482.93" font-size="6.3" fill="#222" stroke="#222" stroke-width="0.05">3</text>
<text x="340.60" y="450.86" text-anchor="end" font-size="8.8" fill="#1c1c1c" stroke="#1c1c1c" stroke-width="0.15">10</text>
<text x="341.00" y="446.86" font-size="6.3" fill="#222" stroke="#222" stroke-width="0.05">4</text>
<text x="340.60" y="414.79" text-anchor="end" font-size="8.8" fill="#1c1c1c" stroke="#1c1c1c" stroke-width="0.15">10</text>
<text x="341.00" y="410.79" font-size="6.3" fill="#222" stroke="#222" stroke-width="0.05">5</text>
<text x="340.60" y="378.72" text-anchor="end" font-size="8.8" fill="#1c1c1c" stroke="#1c1c1c" stroke-width="0.15">10</text>
<text x="341.00" y="374.72" font-size="6.3" fill="#222" stroke="#222" stroke-width="0.05">6</text>
<text x="357.76" y="532.30" text-anchor="middle" font-size="7.7" fill="#1c1c1c" stroke="#1c1c1c" stroke-width="0.15">-20</text>
<text x="370.48" y="532.30" text-anchor="middle" font-size="7.7" fill="#1c1c1c" stroke="#1c1c1c" stroke-width="0.15">0</text>
<text x="383.21" y="532.30" text-anchor="middle" font-size="7.7" fill="#1c1c1c" stroke="#1c1c1c" stroke-width="0.15">20</text>
<text x="395.93" y="532.30" text-anchor="middle" font-size="7.7" fill="#1c1c1c" stroke="#1c1c1c" stroke-width="0.15">40</text>
<text x="408.65" y="532.30" text-anchor="middle" font-size="7.7" fill="#1c1c1c" stroke="#1c1c1c" stroke-width="0.15">60</text>
<text x="421.37" y="532.30" text-anchor="middle" font-size="7.7" fill="#1c1c1c" stroke="#1c1c1c" stroke-width="0.15">80</text>
<text x="434.09" y="532.30" text-anchor="middle" font-size="7.7" fill="#1c1c1c" stroke="#1c1c1c" stroke-width="0.15">100</text>
<text x="446.82" y="532.30" text-anchor="middle" font-size="7.7" fill="#1c1c1c" stroke="#1c1c1c" stroke-width="0.15">120</text>
<text x="459.54" y="532.30" text-anchor="middle" font-size="7.7" fill="#1c1c1c" stroke="#1c1c1c" stroke-width="0.15">140</text>
<text x="376.40" y="543.90" font-size="9.3" fill="#222" stroke="#222" stroke-width="0.04">Temperature</text>
<text x="433.20" y="544.40" font-size="9" fill="#222" stroke="#222" stroke-width="0.1">(</text>
<text x="437.10" y="541.80" font-size="4.5" fill="#333">&#176;</text>
<text x="438.20" y="544.20" font-size="8.6" fill="#2a2a2a">C</text>
<text x="445.90" y="544.40" font-size="9" fill="#222" stroke="#222" stroke-width="0.1">)</text>
<text transform="translate(325.60 452.00) rotate(-90)" text-anchor="middle" font-size="9.4" fill="#222" stroke="#222" stroke-width="0.04">Resistivity (&#937;cm)</text>
<path d="M413.60 498.00V519.10" stroke="#808080" stroke-width="1" stroke-dasharray="4.3 3.3" fill="none"/>
<path d="M353.29 499.20 L354.31 499.46 L355.32 499.72 L356.33 499.97 L357.34 500.22 L358.35 500.47 L359.36 500.71 L360.36 500.95 L361.37 501.19 L362.37 501.42 L363.38 501.65 L364.38 501.88 L365.38 502.10 L366.39 502.31 L367.39 502.52 L368.39 502.73 L369.40 502.93 L370.40 503.13 L371.41 503.32 L372.42 503.51 L373.42 503.69 L374.43 503.86 L375.45 504.03 L376.46 504.19 L377.47 504.35 L378.49 504.50 L379.51 504.65 L380.54 504.78 L381.56 504.91 L382.59 505.04 L383.62 505.16 L384.66 505.27 L385.70 505.37 L386.74 505.46 L387.79 505.55 L388.84 505.63 L389.90 505.70 L390.95 505.76 L392.01 505.81 L393.07 505.83 L394.12 505.84 L395.17 505.82 L396.22 505.77 L397.25 505.70 L398.27 505.59 L399.29 505.44 L400.29 505.25 L401.27 505.02 L402.23 504.74 L403.18 504.41 L404.11 504.03 L405.01 503.60 L405.89 503.10 L406.74 502.55 L407.57 501.95 L408.36 501.29 L409.12 500.59 L409.85 499.85 L410.53 499.07 L411.18 498.25 L411.79 497.40 L412.36 496.52 L412.88 495.61 L413.36 494.68 L413.78 493.73 L414.16 492.76 L414.48 491.77 L414.76 490.77 L414.99 489.77 L415.19 488.75 L415.36 487.72 L415.49 486.69 L415.61 485.65 L415.70 484.61 L415.78 483.56 L415.85 482.52 L415.91 481.48 L415.97 480.44 L416.04 479.40 L416.11 478.36 L416.19 477.33 L416.28 476.30 L416.40 475.28 L416.53 474.26 L416.69 473.25 L416.89 472.25 L417.11 471.25 L417.37 470.26 L417.65 469.27 L417.95 468.29 L418.28 467.32 L418.62 466.35 L418.97 465.38 L419.33 464.41 L419.70 463.45 L420.07 462.49 L420.44 461.53 L420.83 460.57 L421.21 459.62 L421.61 458.67 L422.00 457.72 L422.41 456.77 L422.81 455.82 L423.23 454.87 L423.64 453.93 L424.06 452.99 L424.49 452.05 L424.92 451.11 L425.35 450.17 L425.79 449.23 L426.23 448.30 L426.68 447.37 L427.13 446.43 L427.58 445.50 L428.04 444.58 L428.50 443.65 L428.96 442.72 L429.42 441.80 L429.89 440.88 L430.36 439.95 L430.84 439.03 L431.31 438.11 L431.79 437.20 L432.27 436.28 L432.75 435.36 L433.23 434.45 L433.72 433.53 L434.21 432.62 L434.70 431.71 L435.19 430.80 L435.68 429.89 L436.17 428.98 L436.67 428.07 L437.16 427.16 L437.66 426.25 L438.15 425.35 L438.65 424.44 L439.15 423.54 L439.65 422.63 L440.15 421.73 L440.66 420.83 L441.16 419.93 L441.67 419.03 L442.17 418.13 L442.68 417.23 L443.19 416.34 L443.71 415.44 L444.22 414.55 L444.74 413.66 L445.26 412.76 L445.78 411.88 L446.31 410.99 L446.83 410.10 L447.36 409.22 L447.90 408.33 L448.43 407.45 L448.97 406.57 L449.51 405.69 L450.05 404.82 L450.60 403.94 L451.15 403.07 L451.70 402.20 L452.26 401.33 L452.82 400.47 L453.39 399.60 L453.95 398.74 L454.53 397.88 L455.10 397.02 L455.68 396.17 L456.27 395.31 L456.85 394.46 L457.45 393.61 L458.04 392.77 L458.64 391.92 L459.25 391.08 L459.86 390.24 L460.47 389.41 L461.09 388.57 L461.72 387.74 L462.35 386.91" stroke="#ff0000" stroke-width="1.7" fill="none" stroke-linecap="round" stroke-linejoin="round"/>
<path d="M353.28 500.79 L354.31 501.09 L355.35 501.38 L356.37 501.67 L357.40 501.95 L358.41 502.23 L359.43 502.51 L360.44 502.78 L361.45 503.05 L362.45 503.31 L363.46 503.57 L364.46 503.82 L365.46 504.07 L366.46 504.31 L367.46 504.55 L368.46 504.78 L369.46 505.00 L370.46 505.22 L371.46 505.43 L372.46 505.64 L373.47 505.83 L374.48 506.02 L375.49 506.20 L376.50 506.38 L377.52 506.54 L378.54 506.70 L379.56 506.85 L380.59 506.99 L381.63 507.13 L382.67 507.25 L383.72 507.36 L384.77 507.47 L385.83 507.56 L386.90 507.65 L387.98 507.72 L389.06 507.79 L390.16 507.84 L391.25 507.88 L392.35 507.90 L393.44 507.89 L394.53 507.86 L395.61 507.80 L396.68 507.71 L397.73 507.58 L398.76 507.41 L399.78 507.19 L400.76 506.93 L401.72 506.62 L402.65 506.25 L403.54 505.82 L404.40 505.33 L405.21 504.77 L405.99 504.15 L406.71 503.46 L407.38 502.72 L408.01 501.92 L408.57 501.07 L409.08 500.18 L409.53 499.25 L409.92 498.28 L410.26 497.29 L410.54 496.27 L410.78 495.23 L410.98 494.18 L411.14 493.12 L411.26 492.06 L411.36 490.99 L411.44 489.93 L411.50 488.86 L411.55 487.80 L411.60 486.74 L411.65 485.68 L411.70 484.62 L411.78 483.57 L411.87 482.52 L411.98 481.48 L412.12 480.45 L412.27 479.41 L412.45 478.39 L412.64 477.37 L412.85 476.35 L413.08 475.34 L413.32 474.33 L413.57 473.32 L413.84 472.32 L414.12 471.32 L414.41 470.32 L414.71 469.33 L415.01 468.34 L415.33 467.35 L415.66 466.36 L415.99 465.37 L416.32 464.39 L416.66 463.40 L417.00 462.42 L417.35 461.44 L417.71 460.46 L418.06 459.48 L418.42 458.51 L418.79 457.53 L419.16 456.56 L419.53 455.58 L419.91 454.61 L420.30 453.64 L420.69 452.67 L421.08 451.71 L421.47 450.74 L421.87 449.78 L422.28 448.82 L422.69 447.86 L423.10 446.90 L423.52 445.94 L423.95 444.99 L424.37 444.03 L424.80 443.08 L425.24 442.14 L425.68 441.19 L426.13 440.24 L426.58 439.30 L427.03 438.36 L427.49 437.42 L427.95 436.48 L428.42 435.55 L428.89 434.62 L429.36 433.69 L429.84 432.76 L430.33 431.83 L430.82 430.91 L431.31 429.99 L431.81 429.07 L432.31 428.16 L432.82 427.24 L433.33 426.33 L433.84 425.42 L434.36 424.52 L434.89 423.61 L435.41 422.71 L435.95 421.81 L436.48 420.92 L437.03 420.03 L437.57 419.14 L438.12 418.25 L438.68 417.36 L439.24 416.48 L439.80 415.60 L440.37 414.73 L440.94 413.86 L441.52 412.99 L442.10 412.12 L442.68 411.25 L443.27 410.39 L443.87 409.54 L444.47 408.68 L445.07 407.83 L445.68 406.98 L446.29 406.14 L446.91 405.30 L447.53 404.46 L448.15 403.62 L448.78 402.79 L449.42 401.96 L450.06 401.14 L450.70 400.32 L451.35 399.50 L452.00 398.68 L452.66 397.87 L453.32 397.07 L453.98 396.26 L454.65 395.46 L455.32 394.67 L456.00 393.87 L456.69 393.08 L457.37 392.30 L458.06 391.52 L458.76 390.74 L459.46 389.97 L460.17 389.20 L460.87 388.43 L461.59 387.67 L462.31 386.91" stroke="#0000ff" stroke-width="1.7" fill="none" stroke-linecap="round" stroke-linejoin="round"/>
<path d="M366.50 429.20H383.30" stroke="#ff0000" stroke-width="1.6"/>
<path d="M366.50 438.00H383.30" stroke="#0000ff" stroke-width="1.6"/>
<text x="384.70" y="431.60" font-size="6.9" fill="#222" stroke="#222" stroke-width="0.04">heating</text>
<text x="384.70" y="440.40" font-size="6.9" fill="#222" stroke="#222" stroke-width="0.04">cooling</text>
<text x="437.00" y="493.00" font-size="11" font-weight="bold" font-style="italic" fill="#111" stroke="#111" stroke-width="0.12">9</text></svg>
</body></html>
